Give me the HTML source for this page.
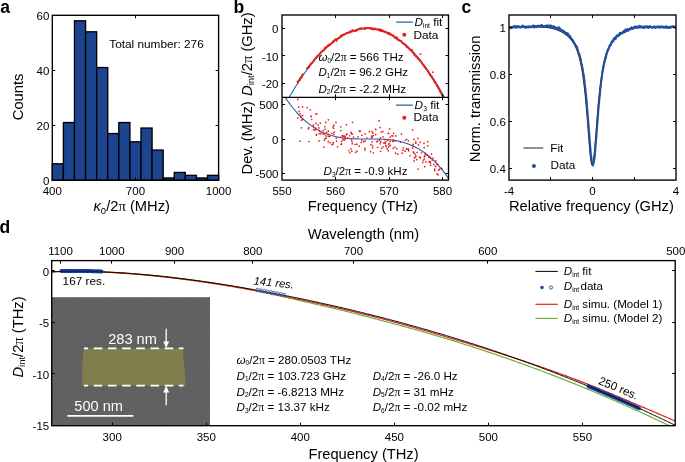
<!DOCTYPE html>
<html><head><meta charset="utf-8"><style>
html,body{margin:0;padding:0;background:#fff;}
svg{display:block;will-change:transform;font-family:"Liberation Sans", sans-serif;}
</style></head><body>
<svg width="685" height="462" viewBox="0 0 685 462" font-family='"Liberation Sans", sans-serif' fill="#000">
<rect width="685" height="462" fill="#fff"/>
<rect x="52.3" y="163.8" width="11.09" height="16.5" fill="#1c448f" stroke="#000" stroke-width="1.35"/>
<rect x="63.39" y="122.55" width="11.09" height="57.75" fill="#1c448f" stroke="#000" stroke-width="1.35"/>
<rect x="74.47" y="20.8" width="11.09" height="159.5" fill="#1c448f" stroke="#000" stroke-width="1.35"/>
<rect x="85.56" y="31.8" width="11.09" height="148.5" fill="#1c448f" stroke="#000" stroke-width="1.35"/>
<rect x="96.65" y="67.55" width="11.09" height="112.75" fill="#1c448f" stroke="#000" stroke-width="1.35"/>
<rect x="107.73" y="133.55" width="11.09" height="46.75" fill="#1c448f" stroke="#000" stroke-width="1.35"/>
<rect x="118.82" y="122.55" width="11.09" height="57.75" fill="#1c448f" stroke="#000" stroke-width="1.35"/>
<rect x="129.91" y="141.8" width="11.09" height="38.5" fill="#1c448f" stroke="#000" stroke-width="1.35"/>
<rect x="140.99" y="128.05" width="11.09" height="52.25" fill="#1c448f" stroke="#000" stroke-width="1.35"/>
<rect x="152.08" y="150.05" width="11.09" height="30.25" fill="#1c448f" stroke="#000" stroke-width="1.35"/>
<rect x="163.17" y="177.96" width="11.09" height="2.34" fill="#1c448f" stroke="#000" stroke-width="1.35"/>
<rect x="174.25" y="172.46" width="11.09" height="7.84" fill="#1c448f" stroke="#000" stroke-width="1.35"/>
<rect x="185.34" y="175.35" width="11.09" height="4.95" fill="#1c448f" stroke="#000" stroke-width="1.35"/>
<rect x="196.43" y="177.96" width="11.09" height="2.34" fill="#1c448f" stroke="#000" stroke-width="1.35"/>
<rect x="207.51" y="175.35" width="11.09" height="4.95" fill="#1c448f" stroke="#000" stroke-width="1.35"/>
<rect x="52.3" y="15.3" width="166.3" height="165" fill="none" stroke="#000" stroke-width="1.35"/>
<path d="M52.3,125.5h3 M218.6,125.5h-3 M52.3,70.5h3 M218.6,70.5h-3 M135.5,15.3v3 M135.5,180.3v-3" stroke="#000" stroke-width="1" fill="none"/>
<text x="49.4" y="185" text-anchor="end" font-size="11.5">0</text>
<text x="49.4" y="130" text-anchor="end" font-size="11.5">20</text>
<text x="49.4" y="75" text-anchor="end" font-size="11.5">40</text>
<text x="49.4" y="20" text-anchor="end" font-size="11.5">60</text>
<text x="52.3" y="195.0" text-anchor="middle" font-size="11.5">400</text>
<text x="135.45" y="195.0" text-anchor="middle" font-size="11.5">700</text>
<text x="218.6" y="195.0" text-anchor="middle" font-size="11.5">1000</text>
<text x="109.3" y="47.7" font-size="11.8">Total number: 276</text>
<text transform="translate(23.4,96.9) rotate(-90)" text-anchor="middle" font-size="14.7">Counts</text>
<text x="131.7" y="211" text-anchor="middle" font-size="14.7"><tspan font-style="italic">κ</tspan><tspan font-size="9.5" dy="2.5">0</tspan><tspan dy="-2.5">/2<tspan font-family="Liberation Serif">π</tspan> (MHz)</tspan></text>
<text x="0.2" y="13" font-size="17.5" font-weight="bold">a</text>
<defs><clipPath id="cbu"><rect x="282" y="15" width="166.5" height="82.3"/></clipPath><clipPath id="cbl"><rect x="282" y="97.3" width="166.5" height="82.8"/></clipPath><clipPath id="cc"><rect x="509" y="15" width="167" height="165.1"/></clipPath><clipPath id="cd"><rect x="51.7" y="260.6" width="623.5" height="165.1"/></clipPath></defs>
<path clip-path="url(#cbu)" d="M276.65,120.82 L277.24,119.64 L277.83,118.47 L278.42,117.3 L279.01,116.14 L279.6,114.98 L280.19,113.84 L280.78,112.7 L281.37,111.57 L281.96,110.45 L282.55,109.33 L283.15,108.22 L283.74,107.12 L284.33,106.03 L284.92,104.94 L285.51,103.86 L286.1,102.79 L286.69,101.73 L287.28,100.67 L287.87,99.62 L288.46,98.58 L289.05,97.55 L289.64,96.52 L290.23,95.5 L290.82,94.49 L291.41,93.49 L292,92.49 L292.59,91.5 L293.18,90.52 L293.77,89.55 L294.36,88.58 L294.95,87.62 L295.54,86.67 L296.14,85.73 L296.73,84.79 L297.32,83.86 L297.91,82.94 L298.5,82.03 L299.09,81.12 L299.68,80.22 L300.27,79.33 L300.86,78.45 L301.45,77.58 L302.04,76.71 L302.63,75.85 L303.22,74.99 L303.81,74.15 L304.4,73.31 L304.99,72.48 L305.58,71.66 L306.17,70.84 L306.76,70.04 L307.35,69.24 L307.94,68.44 L308.54,67.66 L309.13,66.88 L309.72,66.11 L310.31,65.35 L310.9,64.6 L311.49,63.85 L312.08,63.11 L312.67,62.38 L313.26,61.66 L313.85,60.94 L314.44,60.23 L315.03,59.53 L315.62,58.84 L316.21,58.16 L316.8,57.48 L317.39,56.81 L317.98,56.15 L318.57,55.49 L319.16,54.84 L319.75,54.21 L320.34,53.57 L320.94,52.95 L321.53,52.33 L322.12,51.73 L322.71,51.13 L323.3,50.53 L323.89,49.95 L324.48,49.37 L325.07,48.8 L325.66,48.24 L326.25,47.68 L326.84,47.14 L327.43,46.6 L328.02,46.07 L328.61,45.54 L329.2,45.03 L329.79,44.52 L330.38,44.02 L330.97,43.53 L331.56,43.04 L332.15,42.57 L332.74,42.1 L333.33,41.63 L333.93,41.18 L334.52,40.74 L335.11,40.3 L335.7,39.87 L336.29,39.44 L336.88,39.03 L337.47,38.62 L338.06,38.22 L338.65,37.83 L339.24,37.45 L339.83,37.07 L340.42,36.71 L341.01,36.35 L341.6,35.99 L342.19,35.65 L342.78,35.31 L343.37,34.98 L343.96,34.66 L344.55,34.35 L345.14,34.05 L345.73,33.75 L346.33,33.46 L346.92,33.18 L347.51,32.9 L348.1,32.64 L348.69,32.38 L349.28,32.13 L349.87,31.89 L350.46,31.65 L351.05,31.43 L351.64,31.21 L352.23,31 L352.82,30.79 L353.41,30.6 L354,30.41 L354.59,30.23 L355.18,30.06 L355.77,29.9 L356.36,29.74 L356.95,29.6 L357.54,29.46 L358.13,29.32 L358.73,29.2 L359.32,29.08 L359.91,28.98 L360.5,28.88 L361.09,28.79 L361.68,28.7 L362.27,28.63 L362.86,28.56 L363.45,28.5 L364.04,28.45 L364.63,28.4 L365.22,28.36 L365.81,28.34 L366.4,28.32 L366.99,28.3 L367.58,28.3 L368.17,28.3 L368.76,28.32 L369.35,28.34 L369.94,28.36 L370.53,28.4 L371.12,28.44 L371.72,28.49 L372.31,28.55 L372.9,28.62 L373.49,28.7 L374.08,28.78 L374.67,28.87 L375.26,28.97 L375.85,29.08 L376.44,29.2 L377.03,29.32 L377.62,29.45 L378.21,29.59 L378.8,29.74 L379.39,29.9 L379.98,30.06 L380.57,30.24 L381.16,30.42 L381.75,30.6 L382.34,30.8 L382.93,31.01 L383.52,31.22 L384.12,31.44 L384.71,31.67 L385.3,31.91 L385.89,32.15 L386.48,32.4 L387.07,32.67 L387.66,32.94 L388.25,33.21 L388.84,33.5 L389.43,33.79 L390.02,34.1 L390.61,34.41 L391.2,34.72 L391.79,35.05 L392.38,35.39 L392.97,35.73 L393.56,36.08 L394.15,36.44 L394.74,36.81 L395.33,37.18 L395.92,37.56 L396.52,37.96 L397.11,38.36 L397.7,38.76 L398.29,39.18 L398.88,39.61 L399.47,40.04 L400.06,40.48 L400.65,40.93 L401.24,41.39 L401.83,41.85 L402.42,42.32 L403.01,42.81 L403.6,43.3 L404.19,43.79 L404.78,44.3 L405.37,44.82 L405.96,45.34 L406.55,45.87 L407.14,46.41 L407.73,46.96 L408.32,47.51 L408.91,48.08 L409.51,48.65 L410.1,49.23 L410.69,49.82 L411.28,50.42 L411.87,51.02 L412.46,51.64 L413.05,52.26 L413.64,52.89 L414.23,53.53 L414.82,54.18 L415.41,54.83 L416,55.49 L416.59,56.17 L417.18,56.85 L417.77,57.53 L418.36,58.23 L418.95,58.94 L419.54,59.65 L420.13,60.37 L420.72,61.1 L421.31,61.84 L421.91,62.59 L422.5,63.34 L423.09,64.11 L423.68,64.88 L424.27,65.66 L424.86,66.45 L425.45,67.24 L426.04,68.05 L426.63,68.86 L427.22,69.68 L427.81,70.51 L428.4,71.35 L428.99,72.2 L429.58,73.05 L430.17,73.92 L430.76,74.79 L431.35,75.67 L431.94,76.56 L432.53,77.46 L433.12,78.36 L433.71,79.28 L434.31,80.2 L434.9,81.13 L435.49,82.07 L436.08,83.02 L436.67,83.97 L437.26,84.94 L437.85,85.91 L438.44,86.89 L439.03,87.88 L439.62,88.88 L440.21,89.89 L440.8,90.91 L441.39,91.93 L441.98,92.96 L442.57,94 L443.16,95.05 L443.75,96.11 L444.34,97.18 L444.93,98.25 L445.52,99.33 L446.11,100.42 L446.7,101.52 L447.3,102.63 L447.89,103.75 L448.48,104.88 L449.07,106.01 L449.66,107.15 L450.25,108.3 L450.84,109.46 L451.43,110.63 L452.02,111.81 L452.61,112.99 L453.2,114.19" stroke="#2f5cae" stroke-width="1.1" fill="none"/>
<path clip-path="url(#cbl)" d="M276.65,82.9 L277.24,83.99 L277.83,85.06 L278.42,86.12 L279.01,87.16 L279.6,88.19 L280.19,89.21 L280.78,90.21 L281.37,91.2 L281.96,92.17 L282.55,93.14 L283.15,94.08 L283.74,95.02 L284.33,95.94 L284.92,96.85 L285.51,97.75 L286.1,98.63 L286.69,99.5 L287.28,100.36 L287.87,101.21 L288.46,102.04 L289.05,102.86 L289.64,103.67 L290.23,104.47 L290.82,105.25 L291.41,106.02 L292,106.79 L292.59,107.53 L293.18,108.27 L293.77,109 L294.36,109.71 L294.95,110.41 L295.54,111.11 L296.14,111.79 L296.73,112.45 L297.32,113.11 L297.91,113.76 L298.5,114.4 L299.09,115.02 L299.68,115.64 L300.27,116.24 L300.86,116.83 L301.45,117.42 L302.04,117.99 L302.63,118.55 L303.22,119.1 L303.81,119.65 L304.4,120.18 L304.99,120.7 L305.58,121.21 L306.17,121.72 L306.76,122.21 L307.35,122.7 L307.94,123.17 L308.54,123.64 L309.13,124.09 L309.72,124.54 L310.31,124.98 L310.9,125.41 L311.49,125.83 L312.08,126.24 L312.67,126.64 L313.26,127.04 L313.85,127.42 L314.44,127.8 L315.03,128.17 L315.62,128.53 L316.21,128.88 L316.8,129.23 L317.39,129.56 L317.98,129.89 L318.57,130.21 L319.16,130.53 L319.75,130.83 L320.34,131.13 L320.94,131.42 L321.53,131.71 L322.12,131.98 L322.71,132.25 L323.3,132.52 L323.89,132.77 L324.48,133.02 L325.07,133.26 L325.66,133.5 L326.25,133.73 L326.84,133.95 L327.43,134.17 L328.02,134.38 L328.61,134.58 L329.2,134.78 L329.79,134.97 L330.38,135.16 L330.97,135.34 L331.56,135.51 L332.15,135.68 L332.74,135.84 L333.33,136 L333.93,136.15 L334.52,136.3 L335.11,136.44 L335.7,136.58 L336.29,136.71 L336.88,136.84 L337.47,136.96 L338.06,137.08 L338.65,137.19 L339.24,137.3 L339.83,137.4 L340.42,137.5 L341.01,137.6 L341.6,137.69 L342.19,137.78 L342.78,137.86 L343.37,137.94 L343.96,138.02 L344.55,138.09 L345.14,138.16 L345.73,138.22 L346.33,138.28 L346.92,138.34 L347.51,138.4 L348.1,138.45 L348.69,138.5 L349.28,138.54 L349.87,138.58 L350.46,138.62 L351.05,138.66 L351.64,138.7 L352.23,138.73 L352.82,138.76 L353.41,138.79 L354,138.81 L354.59,138.84 L355.18,138.86 L355.77,138.88 L356.36,138.89 L356.95,138.91 L357.54,138.92 L358.13,138.94 L358.73,138.95 L359.32,138.96 L359.91,138.97 L360.5,138.97 L361.09,138.98 L361.68,138.98 L362.27,138.99 L362.86,138.99 L363.45,138.99 L364.04,139 L364.63,139 L365.22,139 L365.81,139 L366.4,139 L366.99,139 L367.58,139 L368.17,139 L368.76,139 L369.35,139 L369.94,139 L370.53,139 L371.12,139 L371.72,139.01 L372.31,139.01 L372.9,139.01 L373.49,139.02 L374.08,139.02 L374.67,139.03 L375.26,139.03 L375.85,139.04 L376.44,139.05 L377.03,139.06 L377.62,139.08 L378.21,139.09 L378.8,139.1 L379.39,139.12 L379.98,139.14 L380.57,139.16 L381.16,139.19 L381.75,139.21 L382.34,139.24 L382.93,139.27 L383.52,139.3 L384.12,139.34 L384.71,139.37 L385.3,139.41 L385.89,139.46 L386.48,139.5 L387.07,139.55 L387.66,139.6 L388.25,139.66 L388.84,139.71 L389.43,139.78 L390.02,139.84 L390.61,139.91 L391.2,139.98 L391.79,140.06 L392.38,140.13 L392.97,140.22 L393.56,140.3 L394.15,140.4 L394.74,140.49 L395.33,140.59 L395.92,140.69 L396.52,140.8 L397.11,140.92 L397.7,141.03 L398.29,141.15 L398.88,141.28 L399.47,141.41 L400.06,141.55 L400.65,141.69 L401.24,141.84 L401.83,141.99 L402.42,142.15 L403.01,142.31 L403.6,142.48 L404.19,142.65 L404.78,142.83 L405.37,143.02 L405.96,143.21 L406.55,143.41 L407.14,143.61 L407.73,143.82 L408.32,144.04 L408.91,144.26 L409.51,144.49 L410.1,144.72 L410.69,144.96 L411.28,145.21 L411.87,145.47 L412.46,145.73 L413.05,146 L413.64,146.28 L414.23,146.56 L414.82,146.85 L415.41,147.15 L416,147.45 L416.59,147.77 L417.18,148.09 L417.77,148.42 L418.36,148.75 L418.95,149.1 L419.54,149.45 L420.13,149.81 L420.72,150.18 L421.31,150.56 L421.91,150.94 L422.5,151.34 L423.09,151.74 L423.68,152.15 L424.27,152.57 L424.86,153 L425.45,153.43 L426.04,153.88 L426.63,154.34 L427.22,154.8 L427.81,155.28 L428.4,155.76 L428.99,156.25 L429.58,156.75 L430.17,157.27 L430.76,157.79 L431.35,158.32 L431.94,158.86 L432.53,159.41 L433.12,159.98 L433.71,160.55 L434.31,161.13 L434.9,161.72 L435.49,162.33 L436.08,162.94 L436.67,163.57 L437.26,164.2 L437.85,164.85 L438.44,165.51 L439.03,166.17 L439.62,166.85 L440.21,167.54 L440.8,168.25 L441.39,168.96 L441.98,169.68 L442.57,170.42 L443.16,171.17 L443.75,171.93 L444.34,172.7 L444.93,173.49 L445.52,174.28 L446.11,175.09 L446.7,175.91 L447.3,176.74 L447.89,177.59 L448.48,178.44 L449.07,179.32 L449.66,180.2 L450.25,181.09 L450.84,182 L451.43,182.92 L452.02,183.86 L452.61,184.81 L453.2,185.77" stroke="#2f5cae" stroke-width="1.1" fill="none"/>
<path clip-path="url(#cbu)" d="M297.52,81.95 L297.74,81.47 L297.75,82.29 L298.7,80.61 L299.06,80.17 L299.93,79.99 L300.05,78.27 L300.65,78.02 L300.87,77.81 L301.4,77.46 L301.4,76.94 L302.18,75.35 L302.53,74.95 L302.66,74.82 L302.77,74.21 M307,68.56 L308.29,67.21 L308.83,66.5 L308.87,67.16 L310.32,64.49 L311.01,63.45 L311.08,63.54 L311.72,63.22 L313.37,61.41 L313.41,60.89 L313.48,60.95 L314.9,59.02 L315.81,58.02 L316.03,57.48 L316.09,57.77 L316.17,57.85 L316.4,58.01 L316.47,57.51 L316.92,56.32 L318.19,55.55 L318.88,54.86 L318.96,55.11 L319,55.2 L319.5,54.09 L320.34,53.04 L320.53,52.93 L321.18,52.03 L323.14,50.62 L323.3,50.17 L323.79,50.45 L324.26,48.96 L324.32,49.49 L324.86,48.36 L325.03,48.61 L325.04,47.87 L325.74,47.42 L325.92,48.09 L326.23,47.76 L326.56,46.98 L328.02,45.88 L328.28,46.13 L328.32,44.79 L328.33,44.99 L328.37,45.79 L329.81,44.57 L329.99,44.92 L331.89,42.83 L331.91,43.07 L333.05,42.13 L333.06,41.55 L333.22,41.73 L333.57,41.01 L333.83,40.92 L333.83,41.55 L334.14,40.71 L335.99,38.98 L336.23,39.5 L336.56,39.67 L337.57,38.86 L340.67,36.85 L340.74,35.78 L340.78,36.11 L341.16,36.43 L341.65,36.36 L341.69,36.3 L342.26,35.1 L342.72,35.13 L343.34,34.98 L343.95,34.38 L344.07,34.27 L344.68,34.52 L345.07,34.11 L345.48,33.99 L346.35,33.15 L346.56,33.03 L347.16,32.8 L347.43,33.17 L348.79,32.57 L349.65,31.63 L349.92,32.47 L350.85,31.72 L351.17,31.29 L351.24,31.2 L351.7,30.98 L351.84,31.64 L351.92,31.11 L352.28,31.39 L352.3,30.62 L352.46,30.14 L353.49,30.8 L355.04,30.88 L355.66,30.96 L356.89,29.84 L356.97,29.85 L356.99,30.45 L358.05,29.23 L359.18,29.15 L359.41,28.77 L359.67,28.82 L360.37,28.38 L361.17,28.5 L361.78,28.18 L361.87,28.88 L363.53,28.41 L363.67,28.54 L364.89,28.81 L364.95,28.98 L365.17,28.08 L365.2,28.57 L366.84,28.04 L369.42,27.96 L370.54,28.65 L371.01,28.94 L371.3,28.4 L371.77,28.2 L371.93,28.54 L372.04,28.17 L372.14,28.65 L372.66,28.55 L372.72,28.61 L372.96,28.3 L373.27,29.17 L373.33,29.47 L375.47,28.59 L375.64,29.05 L375.87,29.21 L376.82,29.33 L377.5,29.42 L377.67,30.1 L379.16,29.23 L379.65,30.19 L380.03,29.5 L380.04,30.75 L380.56,30.62 L380.61,30.88 L380.72,30.57 L381.4,29.71 L381.63,31.1 L382.99,30.68 L383.04,31.06 L383.05,31.53 L383.68,31.35 L384.19,31.19 L385,31.91 L385.19,31.85 L385.81,32.3 L386.02,32.16 L386.28,32.55 L387.36,32.62 L387.69,33.29 L388.11,32.98 L388.33,34 L388.55,33.88 L388.6,33.61 L388.71,33.3 L388.77,33.02 L389.11,33.51 L389.59,33.35 L389.99,34.36 L390.1,33.56 L390.24,34.4 L390.51,34.23 L391.86,35.04 L392.8,35.69 L392.87,35.46 L392.91,35.74 L393.09,36.03 L393.37,35.89 L393.52,35.67 L393.56,35.84 L394.91,37.7 L395.6,37.92 L395.6,38.25 L395.81,37.54 L396.65,38.27 L397.87,39.85 L400.62,41.01 L401.52,41.39 L402.25,42.68 L402.8,43.1 L403.4,43.37 L405.12,45.06 L405.27,44.5 L406.51,46.15 L406.72,46.98 L406.75,46.05 L408.24,47.79 L408.37,47.76 L408.54,48.29 L408.78,48.14 L410.07,49.82 L412.54,51.59 L412.59,52.21 L413.18,52.64 L413.19,53.09 L413.24,52.81 L413.85,53.7 L413.91,53.07 L414.12,54.66 L414.49,54.08 L415.14,54.98 L415.3,55.28 L415.83,55.58 L415.83,55.62 L415.99,56.52 L416.7,56.73 L417.09,57.46 L417.99,57.7 L418.06,58.91 L418.39,58.64 L419.47,60.05 L420.18,60.04 L420.48,61.46 L421.48,62.23 L422.77,64.47 L423.42,65.48 L424.01,65.57 L424.22,66.34 L424.33,66.4 L424.41,66.26 L424.72,67.18 L424.94,67 L425.01,66.92 L425.32,67.78 L425.66,67.97 L425.84,68.2 L425.86,68.59 L427.16,70.21 L427.68,70.7 L427.78,70.61 L428.76,72.74 L429.12,73.31 L429.53,74.01 L430.14,74.88 L430.44,75.37 L430.47,75.21 L430.69,75.37 L431.51,76.46 L432.26,77.81 L433.06,79.08 L433.78,80.04 L434.72,82.46 L434.74,82.18 L435.2,82.4 L435.61,82.94 L435.78,83.34 L436.95,85.4 L437.13,85.95 L437.98,87.17 L438.08,87.56 L438.62,88.58 L439.67,89.99 L439.91,91.09 L441.16,92.93 L442.11,95.02" stroke="#e3211c" stroke-width="2.0" fill="none" stroke-linejoin="round" stroke-linecap="round"/>
<path clip-path="url(#cbu)" d="M419.66,53.97a0.9,0.9 0 1,0 1.8,0a0.9,0.9 0 1,0 -1.8,0 M396.12,37.13a0.9,0.9 0 1,0 1.8,0a0.9,0.9 0 1,0 -1.8,0 M431.97,72.18a0.9,0.9 0 1,0 1.8,0a0.9,0.9 0 1,0 -1.8,0 M411.1,49.55a0.9,0.9 0 1,0 1.8,0a0.9,0.9 0 1,0 -1.8,0 M335.67,41a0.9,0.9 0 1,0 1.8,0a0.9,0.9 0 1,0 -1.8,0" fill="#e3211c"/>
<path clip-path="url(#cbl)" d="M296.67,96.66a0.85,0.85 0 1,0 1.7,0a0.85,0.85 0 1,0 -1.7,0 M296.89,99.42a0.85,0.85 0 1,0 1.7,0a0.85,0.85 0 1,0 -1.7,0 M296.9,118.08a0.85,0.85 0 1,0 1.7,0a0.85,0.85 0 1,0 -1.7,0 M297.85,107.13a0.85,0.85 0 1,0 1.7,0a0.85,0.85 0 1,0 -1.7,0 M298.21,111.32a0.85,0.85 0 1,0 1.7,0a0.85,0.85 0 1,0 -1.7,0 M299.08,141.21a0.85,0.85 0 1,0 1.7,0a0.85,0.85 0 1,0 -1.7,0 M299.2,113.59a0.85,0.85 0 1,0 1.7,0a0.85,0.85 0 1,0 -1.7,0 M299.8,117.22a0.85,0.85 0 1,0 1.7,0a0.85,0.85 0 1,0 -1.7,0 M300.02,116.04a0.85,0.85 0 1,0 1.7,0a0.85,0.85 0 1,0 -1.7,0 M300.55,127.8a0.85,0.85 0 1,0 1.7,0a0.85,0.85 0 1,0 -1.7,0 M300.55,119.98a0.85,0.85 0 1,0 1.7,0a0.85,0.85 0 1,0 -1.7,0 M301.33,119.85a0.85,0.85 0 1,0 1.7,0a0.85,0.85 0 1,0 -1.7,0 M301.68,106.94a0.85,0.85 0 1,0 1.7,0a0.85,0.85 0 1,0 -1.7,0 M301.81,115.34a0.85,0.85 0 1,0 1.7,0a0.85,0.85 0 1,0 -1.7,0 M301.92,118.73a0.85,0.85 0 1,0 1.7,0a0.85,0.85 0 1,0 -1.7,0 M306.15,107.59a0.85,0.85 0 1,0 1.7,0a0.85,0.85 0 1,0 -1.7,0 M307.44,128.82a0.85,0.85 0 1,0 1.7,0a0.85,0.85 0 1,0 -1.7,0 M307.98,127.64a0.85,0.85 0 1,0 1.7,0a0.85,0.85 0 1,0 -1.7,0 M308.02,141.49a0.85,0.85 0 1,0 1.7,0a0.85,0.85 0 1,0 -1.7,0 M309.47,109.78a0.85,0.85 0 1,0 1.7,0a0.85,0.85 0 1,0 -1.7,0 M310.16,116.15a0.85,0.85 0 1,0 1.7,0a0.85,0.85 0 1,0 -1.7,0 M310.23,116.65a0.85,0.85 0 1,0 1.7,0a0.85,0.85 0 1,0 -1.7,0 M310.87,119.51a0.85,0.85 0 1,0 1.7,0a0.85,0.85 0 1,0 -1.7,0 M312.52,126.04a0.85,0.85 0 1,0 1.7,0a0.85,0.85 0 1,0 -1.7,0 M312.56,125.05a0.85,0.85 0 1,0 1.7,0a0.85,0.85 0 1,0 -1.7,0 M312.63,129.62a0.85,0.85 0 1,0 1.7,0a0.85,0.85 0 1,0 -1.7,0 M314.05,130.06a0.85,0.85 0 1,0 1.7,0a0.85,0.85 0 1,0 -1.7,0 M314.96,128.11a0.85,0.85 0 1,0 1.7,0a0.85,0.85 0 1,0 -1.7,0 M315.18,114.13a0.85,0.85 0 1,0 1.7,0a0.85,0.85 0 1,0 -1.7,0 M315.24,123.43a0.85,0.85 0 1,0 1.7,0a0.85,0.85 0 1,0 -1.7,0 M315.32,129.42a0.85,0.85 0 1,0 1.7,0a0.85,0.85 0 1,0 -1.7,0 M315.55,134.61a0.85,0.85 0 1,0 1.7,0a0.85,0.85 0 1,0 -1.7,0 M315.62,135.19a0.85,0.85 0 1,0 1.7,0a0.85,0.85 0 1,0 -1.7,0 M316.07,113.77a0.85,0.85 0 1,0 1.7,0a0.85,0.85 0 1,0 -1.7,0 M317.34,125.09a0.85,0.85 0 1,0 1.7,0a0.85,0.85 0 1,0 -1.7,0 M318.03,127.95a0.85,0.85 0 1,0 1.7,0a0.85,0.85 0 1,0 -1.7,0 M318.11,133.55a0.85,0.85 0 1,0 1.7,0a0.85,0.85 0 1,0 -1.7,0 M318.15,140.96a0.85,0.85 0 1,0 1.7,0a0.85,0.85 0 1,0 -1.7,0 M318.65,131.13a0.85,0.85 0 1,0 1.7,0a0.85,0.85 0 1,0 -1.7,0 M319.49,123.21a0.85,0.85 0 1,0 1.7,0a0.85,0.85 0 1,0 -1.7,0 M319.68,134.02a0.85,0.85 0 1,0 1.7,0a0.85,0.85 0 1,0 -1.7,0 M320.33,132.74a0.85,0.85 0 1,0 1.7,0a0.85,0.85 0 1,0 -1.7,0 M322.29,133.58a0.85,0.85 0 1,0 1.7,0a0.85,0.85 0 1,0 -1.7,0 M322.45,130.48a0.85,0.85 0 1,0 1.7,0a0.85,0.85 0 1,0 -1.7,0 M322.94,147.18a0.85,0.85 0 1,0 1.7,0a0.85,0.85 0 1,0 -1.7,0 M323.41,134.23a0.85,0.85 0 1,0 1.7,0a0.85,0.85 0 1,0 -1.7,0 M323.47,140.25a0.85,0.85 0 1,0 1.7,0a0.85,0.85 0 1,0 -1.7,0 M324.01,126.75a0.85,0.85 0 1,0 1.7,0a0.85,0.85 0 1,0 -1.7,0 M324.18,138.85a0.85,0.85 0 1,0 1.7,0a0.85,0.85 0 1,0 -1.7,0 M324.19,129.06a0.85,0.85 0 1,0 1.7,0a0.85,0.85 0 1,0 -1.7,0 M324.89,122.45a0.85,0.85 0 1,0 1.7,0a0.85,0.85 0 1,0 -1.7,0 M325.07,135.88a0.85,0.85 0 1,0 1.7,0a0.85,0.85 0 1,0 -1.7,0 M325.38,138.09a0.85,0.85 0 1,0 1.7,0a0.85,0.85 0 1,0 -1.7,0 M325.71,132.46a0.85,0.85 0 1,0 1.7,0a0.85,0.85 0 1,0 -1.7,0 M327.17,134.39a0.85,0.85 0 1,0 1.7,0a0.85,0.85 0 1,0 -1.7,0 M327.43,141.69a0.85,0.85 0 1,0 1.7,0a0.85,0.85 0 1,0 -1.7,0 M327.47,131.13a0.85,0.85 0 1,0 1.7,0a0.85,0.85 0 1,0 -1.7,0 M327.48,119.84a0.85,0.85 0 1,0 1.7,0a0.85,0.85 0 1,0 -1.7,0 M327.52,136.37a0.85,0.85 0 1,0 1.7,0a0.85,0.85 0 1,0 -1.7,0 M328.96,136.45a0.85,0.85 0 1,0 1.7,0a0.85,0.85 0 1,0 -1.7,0 M329.14,142.63a0.85,0.85 0 1,0 1.7,0a0.85,0.85 0 1,0 -1.7,0 M331.04,133.29a0.85,0.85 0 1,0 1.7,0a0.85,0.85 0 1,0 -1.7,0 M331.06,144.67a0.85,0.85 0 1,0 1.7,0a0.85,0.85 0 1,0 -1.7,0 M332.2,143.97a0.85,0.85 0 1,0 1.7,0a0.85,0.85 0 1,0 -1.7,0 M332.21,126.63a0.85,0.85 0 1,0 1.7,0a0.85,0.85 0 1,0 -1.7,0 M332.37,142.55a0.85,0.85 0 1,0 1.7,0a0.85,0.85 0 1,0 -1.7,0 M332.72,128.21a0.85,0.85 0 1,0 1.7,0a0.85,0.85 0 1,0 -1.7,0 M332.98,125.05a0.85,0.85 0 1,0 1.7,0a0.85,0.85 0 1,0 -1.7,0 M332.98,134.24a0.85,0.85 0 1,0 1.7,0a0.85,0.85 0 1,0 -1.7,0 M333.29,132.19a0.85,0.85 0 1,0 1.7,0a0.85,0.85 0 1,0 -1.7,0 M335.14,122.46a0.85,0.85 0 1,0 1.7,0a0.85,0.85 0 1,0 -1.7,0 M335.38,138.13a0.85,0.85 0 1,0 1.7,0a0.85,0.85 0 1,0 -1.7,0 M335.71,141.08a0.85,0.85 0 1,0 1.7,0a0.85,0.85 0 1,0 -1.7,0 M336.72,146.81a0.85,0.85 0 1,0 1.7,0a0.85,0.85 0 1,0 -1.7,0 M339.82,137.24a0.85,0.85 0 1,0 1.7,0a0.85,0.85 0 1,0 -1.7,0 M339.89,126.81a0.85,0.85 0 1,0 1.7,0a0.85,0.85 0 1,0 -1.7,0 M339.93,130.59a0.85,0.85 0 1,0 1.7,0a0.85,0.85 0 1,0 -1.7,0 M340.31,144.47a0.85,0.85 0 1,0 1.7,0a0.85,0.85 0 1,0 -1.7,0 M340.8,143.91a0.85,0.85 0 1,0 1.7,0a0.85,0.85 0 1,0 -1.7,0 M340.84,141.37a0.85,0.85 0 1,0 1.7,0a0.85,0.85 0 1,0 -1.7,0 M341.41,135.66a0.85,0.85 0 1,0 1.7,0a0.85,0.85 0 1,0 -1.7,0 M341.87,139.34a0.85,0.85 0 1,0 1.7,0a0.85,0.85 0 1,0 -1.7,0 M342.49,136.38a0.85,0.85 0 1,0 1.7,0a0.85,0.85 0 1,0 -1.7,0 M343.1,135.86a0.85,0.85 0 1,0 1.7,0a0.85,0.85 0 1,0 -1.7,0 M343.22,140.2a0.85,0.85 0 1,0 1.7,0a0.85,0.85 0 1,0 -1.7,0 M343.83,138.39a0.85,0.85 0 1,0 1.7,0a0.85,0.85 0 1,0 -1.7,0 M344.22,136.65a0.85,0.85 0 1,0 1.7,0a0.85,0.85 0 1,0 -1.7,0 M344.63,138.8a0.85,0.85 0 1,0 1.7,0a0.85,0.85 0 1,0 -1.7,0 M345.5,134.63a0.85,0.85 0 1,0 1.7,0a0.85,0.85 0 1,0 -1.7,0 M345.71,124.71a0.85,0.85 0 1,0 1.7,0a0.85,0.85 0 1,0 -1.7,0 M346.31,134.06a0.85,0.85 0 1,0 1.7,0a0.85,0.85 0 1,0 -1.7,0 M346.58,137.98a0.85,0.85 0 1,0 1.7,0a0.85,0.85 0 1,0 -1.7,0 M347.94,150.76a0.85,0.85 0 1,0 1.7,0a0.85,0.85 0 1,0 -1.7,0 M348.8,135.75a0.85,0.85 0 1,0 1.7,0a0.85,0.85 0 1,0 -1.7,0 M349.07,152.73a0.85,0.85 0 1,0 1.7,0a0.85,0.85 0 1,0 -1.7,0 M350,148.89a0.85,0.85 0 1,0 1.7,0a0.85,0.85 0 1,0 -1.7,0 M350.32,132.46a0.85,0.85 0 1,0 1.7,0a0.85,0.85 0 1,0 -1.7,0 M350.39,133.54a0.85,0.85 0 1,0 1.7,0a0.85,0.85 0 1,0 -1.7,0 M350.85,139.79a0.85,0.85 0 1,0 1.7,0a0.85,0.85 0 1,0 -1.7,0 M350.99,151.13a0.85,0.85 0 1,0 1.7,0a0.85,0.85 0 1,0 -1.7,0 M351.07,141.41a0.85,0.85 0 1,0 1.7,0a0.85,0.85 0 1,0 -1.7,0 M351.43,143.66a0.85,0.85 0 1,0 1.7,0a0.85,0.85 0 1,0 -1.7,0 M351.45,134.11a0.85,0.85 0 1,0 1.7,0a0.85,0.85 0 1,0 -1.7,0 M351.61,122.34a0.85,0.85 0 1,0 1.7,0a0.85,0.85 0 1,0 -1.7,0 M352.64,137.21a0.85,0.85 0 1,0 1.7,0a0.85,0.85 0 1,0 -1.7,0 M354.19,144.51a0.85,0.85 0 1,0 1.7,0a0.85,0.85 0 1,0 -1.7,0 M354.81,152.38a0.85,0.85 0 1,0 1.7,0a0.85,0.85 0 1,0 -1.7,0 M356.04,144.32a0.85,0.85 0 1,0 1.7,0a0.85,0.85 0 1,0 -1.7,0 M356.12,144.02a0.85,0.85 0 1,0 1.7,0a0.85,0.85 0 1,0 -1.7,0 M356.14,151.1a0.85,0.85 0 1,0 1.7,0a0.85,0.85 0 1,0 -1.7,0 M357.2,136.91a0.85,0.85 0 1,0 1.7,0a0.85,0.85 0 1,0 -1.7,0 M358.33,146.14a0.85,0.85 0 1,0 1.7,0a0.85,0.85 0 1,0 -1.7,0 M358.56,130.88a0.85,0.85 0 1,0 1.7,0a0.85,0.85 0 1,0 -1.7,0 M358.82,131.24a0.85,0.85 0 1,0 1.7,0a0.85,0.85 0 1,0 -1.7,0 M359.52,131.09a0.85,0.85 0 1,0 1.7,0a0.85,0.85 0 1,0 -1.7,0 M360.32,142.42a0.85,0.85 0 1,0 1.7,0a0.85,0.85 0 1,0 -1.7,0 M360.93,135.25a0.85,0.85 0 1,0 1.7,0a0.85,0.85 0 1,0 -1.7,0 M361.02,139.95a0.85,0.85 0 1,0 1.7,0a0.85,0.85 0 1,0 -1.7,0 M362.68,141.82a0.85,0.85 0 1,0 1.7,0a0.85,0.85 0 1,0 -1.7,0 M362.82,141.46a0.85,0.85 0 1,0 1.7,0a0.85,0.85 0 1,0 -1.7,0 M364.04,148.44a0.85,0.85 0 1,0 1.7,0a0.85,0.85 0 1,0 -1.7,0 M364.1,150.08a0.85,0.85 0 1,0 1.7,0a0.85,0.85 0 1,0 -1.7,0 M364.32,133.82a0.85,0.85 0 1,0 1.7,0a0.85,0.85 0 1,0 -1.7,0 M364.35,140.98a0.85,0.85 0 1,0 1.7,0a0.85,0.85 0 1,0 -1.7,0 M365.99,138.02a0.85,0.85 0 1,0 1.7,0a0.85,0.85 0 1,0 -1.7,0 M368.57,131.72a0.85,0.85 0 1,0 1.7,0a0.85,0.85 0 1,0 -1.7,0 M369.69,151.59a0.85,0.85 0 1,0 1.7,0a0.85,0.85 0 1,0 -1.7,0 M370.16,144.7a0.85,0.85 0 1,0 1.7,0a0.85,0.85 0 1,0 -1.7,0 M370.45,137.73a0.85,0.85 0 1,0 1.7,0a0.85,0.85 0 1,0 -1.7,0 M370.92,136.16a0.85,0.85 0 1,0 1.7,0a0.85,0.85 0 1,0 -1.7,0 M371.08,141.75a0.85,0.85 0 1,0 1.7,0a0.85,0.85 0 1,0 -1.7,0 M371.19,131.53a0.85,0.85 0 1,0 1.7,0a0.85,0.85 0 1,0 -1.7,0 M371.29,137.48a0.85,0.85 0 1,0 1.7,0a0.85,0.85 0 1,0 -1.7,0 M371.81,147.83a0.85,0.85 0 1,0 1.7,0a0.85,0.85 0 1,0 -1.7,0 M371.87,145.77a0.85,0.85 0 1,0 1.7,0a0.85,0.85 0 1,0 -1.7,0 M372.11,133.16a0.85,0.85 0 1,0 1.7,0a0.85,0.85 0 1,0 -1.7,0 M372.42,135.64a0.85,0.85 0 1,0 1.7,0a0.85,0.85 0 1,0 -1.7,0 M372.48,152.81a0.85,0.85 0 1,0 1.7,0a0.85,0.85 0 1,0 -1.7,0 M374.62,129.24a0.85,0.85 0 1,0 1.7,0a0.85,0.85 0 1,0 -1.7,0 M374.79,134.69a0.85,0.85 0 1,0 1.7,0a0.85,0.85 0 1,0 -1.7,0 M375.02,129.28a0.85,0.85 0 1,0 1.7,0a0.85,0.85 0 1,0 -1.7,0 M375.97,141.85a0.85,0.85 0 1,0 1.7,0a0.85,0.85 0 1,0 -1.7,0 M376.65,141.22a0.85,0.85 0 1,0 1.7,0a0.85,0.85 0 1,0 -1.7,0 M376.82,147.26a0.85,0.85 0 1,0 1.7,0a0.85,0.85 0 1,0 -1.7,0 M378.31,120.68a0.85,0.85 0 1,0 1.7,0a0.85,0.85 0 1,0 -1.7,0 M378.8,140.41a0.85,0.85 0 1,0 1.7,0a0.85,0.85 0 1,0 -1.7,0 M379.18,127.61a0.85,0.85 0 1,0 1.7,0a0.85,0.85 0 1,0 -1.7,0 M379.19,143.85a0.85,0.85 0 1,0 1.7,0a0.85,0.85 0 1,0 -1.7,0 M379.71,137.97a0.85,0.85 0 1,0 1.7,0a0.85,0.85 0 1,0 -1.7,0 M379.76,151.31a0.85,0.85 0 1,0 1.7,0a0.85,0.85 0 1,0 -1.7,0 M379.87,141.95a0.85,0.85 0 1,0 1.7,0a0.85,0.85 0 1,0 -1.7,0 M380.55,132.05a0.85,0.85 0 1,0 1.7,0a0.85,0.85 0 1,0 -1.7,0 M380.78,148.3a0.85,0.85 0 1,0 1.7,0a0.85,0.85 0 1,0 -1.7,0 M382.14,131.48a0.85,0.85 0 1,0 1.7,0a0.85,0.85 0 1,0 -1.7,0 M382.19,136.82a0.85,0.85 0 1,0 1.7,0a0.85,0.85 0 1,0 -1.7,0 M382.2,146.86a0.85,0.85 0 1,0 1.7,0a0.85,0.85 0 1,0 -1.7,0 M382.83,142.95a0.85,0.85 0 1,0 1.7,0a0.85,0.85 0 1,0 -1.7,0 M383.34,142.68a0.85,0.85 0 1,0 1.7,0a0.85,0.85 0 1,0 -1.7,0 M384.15,139.75a0.85,0.85 0 1,0 1.7,0a0.85,0.85 0 1,0 -1.7,0 M384.34,143.3a0.85,0.85 0 1,0 1.7,0a0.85,0.85 0 1,0 -1.7,0 M384.96,145.46a0.85,0.85 0 1,0 1.7,0a0.85,0.85 0 1,0 -1.7,0 M385.17,141.68a0.85,0.85 0 1,0 1.7,0a0.85,0.85 0 1,0 -1.7,0 M385.43,146.95a0.85,0.85 0 1,0 1.7,0a0.85,0.85 0 1,0 -1.7,0 M386.51,148.94a0.85,0.85 0 1,0 1.7,0a0.85,0.85 0 1,0 -1.7,0 M386.84,139.95a0.85,0.85 0 1,0 1.7,0a0.85,0.85 0 1,0 -1.7,0 M387.26,133.23a0.85,0.85 0 1,0 1.7,0a0.85,0.85 0 1,0 -1.7,0 M387.48,150.78a0.85,0.85 0 1,0 1.7,0a0.85,0.85 0 1,0 -1.7,0 M387.7,139.66a0.85,0.85 0 1,0 1.7,0a0.85,0.85 0 1,0 -1.7,0 M387.75,144.41a0.85,0.85 0 1,0 1.7,0a0.85,0.85 0 1,0 -1.7,0 M387.86,146.8a0.85,0.85 0 1,0 1.7,0a0.85,0.85 0 1,0 -1.7,0 M387.92,133.51a0.85,0.85 0 1,0 1.7,0a0.85,0.85 0 1,0 -1.7,0 M388.26,143.51a0.85,0.85 0 1,0 1.7,0a0.85,0.85 0 1,0 -1.7,0 M388.74,128.91a0.85,0.85 0 1,0 1.7,0a0.85,0.85 0 1,0 -1.7,0 M389.14,145.5a0.85,0.85 0 1,0 1.7,0a0.85,0.85 0 1,0 -1.7,0 M389.25,137.04a0.85,0.85 0 1,0 1.7,0a0.85,0.85 0 1,0 -1.7,0 M389.39,141.52a0.85,0.85 0 1,0 1.7,0a0.85,0.85 0 1,0 -1.7,0 M389.66,145.38a0.85,0.85 0 1,0 1.7,0a0.85,0.85 0 1,0 -1.7,0 M391.01,135.79a0.85,0.85 0 1,0 1.7,0a0.85,0.85 0 1,0 -1.7,0 M391.95,141.32a0.85,0.85 0 1,0 1.7,0a0.85,0.85 0 1,0 -1.7,0 M392.02,135.82a0.85,0.85 0 1,0 1.7,0a0.85,0.85 0 1,0 -1.7,0 M392.06,140.55a0.85,0.85 0 1,0 1.7,0a0.85,0.85 0 1,0 -1.7,0 M392.24,148.13a0.85,0.85 0 1,0 1.7,0a0.85,0.85 0 1,0 -1.7,0 M392.52,141.02a0.85,0.85 0 1,0 1.7,0a0.85,0.85 0 1,0 -1.7,0 M392.67,139.92a0.85,0.85 0 1,0 1.7,0a0.85,0.85 0 1,0 -1.7,0 M392.71,133.34a0.85,0.85 0 1,0 1.7,0a0.85,0.85 0 1,0 -1.7,0 M394.06,147.1a0.85,0.85 0 1,0 1.7,0a0.85,0.85 0 1,0 -1.7,0 M394.75,140.92a0.85,0.85 0 1,0 1.7,0a0.85,0.85 0 1,0 -1.7,0 M394.75,153.15a0.85,0.85 0 1,0 1.7,0a0.85,0.85 0 1,0 -1.7,0 M394.96,135.94a0.85,0.85 0 1,0 1.7,0a0.85,0.85 0 1,0 -1.7,0 M395.8,148.69a0.85,0.85 0 1,0 1.7,0a0.85,0.85 0 1,0 -1.7,0 M397.02,154.19a0.85,0.85 0 1,0 1.7,0a0.85,0.85 0 1,0 -1.7,0 M399.77,142.11a0.85,0.85 0 1,0 1.7,0a0.85,0.85 0 1,0 -1.7,0 M400.67,133.88a0.85,0.85 0 1,0 1.7,0a0.85,0.85 0 1,0 -1.7,0 M401.4,153.18a0.85,0.85 0 1,0 1.7,0a0.85,0.85 0 1,0 -1.7,0 M401.95,150.16a0.85,0.85 0 1,0 1.7,0a0.85,0.85 0 1,0 -1.7,0 M402.55,147.82a0.85,0.85 0 1,0 1.7,0a0.85,0.85 0 1,0 -1.7,0 M404.27,151.15a0.85,0.85 0 1,0 1.7,0a0.85,0.85 0 1,0 -1.7,0 M404.42,140.23a0.85,0.85 0 1,0 1.7,0a0.85,0.85 0 1,0 -1.7,0 M405.66,149.26a0.85,0.85 0 1,0 1.7,0a0.85,0.85 0 1,0 -1.7,0 M405.87,148.71a0.85,0.85 0 1,0 1.7,0a0.85,0.85 0 1,0 -1.7,0 M405.9,139.24a0.85,0.85 0 1,0 1.7,0a0.85,0.85 0 1,0 -1.7,0 M407.39,149.5a0.85,0.85 0 1,0 1.7,0a0.85,0.85 0 1,0 -1.7,0 M407.52,140.91a0.85,0.85 0 1,0 1.7,0a0.85,0.85 0 1,0 -1.7,0 M407.69,148.88a0.85,0.85 0 1,0 1.7,0a0.85,0.85 0 1,0 -1.7,0 M407.93,150.72a0.85,0.85 0 1,0 1.7,0a0.85,0.85 0 1,0 -1.7,0 M409.22,155.75a0.85,0.85 0 1,0 1.7,0a0.85,0.85 0 1,0 -1.7,0 M411.69,129.95a0.85,0.85 0 1,0 1.7,0a0.85,0.85 0 1,0 -1.7,0 M411.74,148.12a0.85,0.85 0 1,0 1.7,0a0.85,0.85 0 1,0 -1.7,0 M412.33,144.29a0.85,0.85 0 1,0 1.7,0a0.85,0.85 0 1,0 -1.7,0 M412.34,146.29a0.85,0.85 0 1,0 1.7,0a0.85,0.85 0 1,0 -1.7,0 M412.39,151.84a0.85,0.85 0 1,0 1.7,0a0.85,0.85 0 1,0 -1.7,0 M413,152.93a0.85,0.85 0 1,0 1.7,0a0.85,0.85 0 1,0 -1.7,0 M413.06,139.45a0.85,0.85 0 1,0 1.7,0a0.85,0.85 0 1,0 -1.7,0 M413.27,160.97a0.85,0.85 0 1,0 1.7,0a0.85,0.85 0 1,0 -1.7,0 M413.64,158a0.85,0.85 0 1,0 1.7,0a0.85,0.85 0 1,0 -1.7,0 M414.29,154.37a0.85,0.85 0 1,0 1.7,0a0.85,0.85 0 1,0 -1.7,0 M414.45,156.79a0.85,0.85 0 1,0 1.7,0a0.85,0.85 0 1,0 -1.7,0 M414.98,141.94a0.85,0.85 0 1,0 1.7,0a0.85,0.85 0 1,0 -1.7,0 M414.98,143.17a0.85,0.85 0 1,0 1.7,0a0.85,0.85 0 1,0 -1.7,0 M415.14,156.2a0.85,0.85 0 1,0 1.7,0a0.85,0.85 0 1,0 -1.7,0 M415.85,159.69a0.85,0.85 0 1,0 1.7,0a0.85,0.85 0 1,0 -1.7,0 M416.24,152.38a0.85,0.85 0 1,0 1.7,0a0.85,0.85 0 1,0 -1.7,0 M417.14,138.43a0.85,0.85 0 1,0 1.7,0a0.85,0.85 0 1,0 -1.7,0 M417.21,169.07a0.85,0.85 0 1,0 1.7,0a0.85,0.85 0 1,0 -1.7,0 M417.54,144.94a0.85,0.85 0 1,0 1.7,0a0.85,0.85 0 1,0 -1.7,0 M418.62,157.22a0.85,0.85 0 1,0 1.7,0a0.85,0.85 0 1,0 -1.7,0 M419.33,142.28a0.85,0.85 0 1,0 1.7,0a0.85,0.85 0 1,0 -1.7,0 M419.63,157.86a0.85,0.85 0 1,0 1.7,0a0.85,0.85 0 1,0 -1.7,0 M420.63,152.74a0.85,0.85 0 1,0 1.7,0a0.85,0.85 0 1,0 -1.7,0 M421.92,162.46a0.85,0.85 0 1,0 1.7,0a0.85,0.85 0 1,0 -1.7,0 M422.57,160.19a0.85,0.85 0 1,0 1.7,0a0.85,0.85 0 1,0 -1.7,0 M423.16,143.43a0.85,0.85 0 1,0 1.7,0a0.85,0.85 0 1,0 -1.7,0 M423.37,147.7a0.85,0.85 0 1,0 1.7,0a0.85,0.85 0 1,0 -1.7,0 M423.48,156.65a0.85,0.85 0 1,0 1.7,0a0.85,0.85 0 1,0 -1.7,0 M423.56,158.99a0.85,0.85 0 1,0 1.7,0a0.85,0.85 0 1,0 -1.7,0 M423.87,166.66a0.85,0.85 0 1,0 1.7,0a0.85,0.85 0 1,0 -1.7,0 M424.09,155.91a0.85,0.85 0 1,0 1.7,0a0.85,0.85 0 1,0 -1.7,0 M424.16,153.33a0.85,0.85 0 1,0 1.7,0a0.85,0.85 0 1,0 -1.7,0 M424.47,153.95a0.85,0.85 0 1,0 1.7,0a0.85,0.85 0 1,0 -1.7,0 M424.81,154.27a0.85,0.85 0 1,0 1.7,0a0.85,0.85 0 1,0 -1.7,0 M424.99,161.88a0.85,0.85 0 1,0 1.7,0a0.85,0.85 0 1,0 -1.7,0 M425.01,154.23a0.85,0.85 0 1,0 1.7,0a0.85,0.85 0 1,0 -1.7,0 M426.31,155.04a0.85,0.85 0 1,0 1.7,0a0.85,0.85 0 1,0 -1.7,0 M426.83,145.8a0.85,0.85 0 1,0 1.7,0a0.85,0.85 0 1,0 -1.7,0 M426.93,141.69a0.85,0.85 0 1,0 1.7,0a0.85,0.85 0 1,0 -1.7,0 M427.91,157.05a0.85,0.85 0 1,0 1.7,0a0.85,0.85 0 1,0 -1.7,0 M428.27,161.93a0.85,0.85 0 1,0 1.7,0a0.85,0.85 0 1,0 -1.7,0 M428.68,157.18a0.85,0.85 0 1,0 1.7,0a0.85,0.85 0 1,0 -1.7,0 M429.29,161.65a0.85,0.85 0 1,0 1.7,0a0.85,0.85 0 1,0 -1.7,0 M429.59,162.9a0.85,0.85 0 1,0 1.7,0a0.85,0.85 0 1,0 -1.7,0 M429.62,157.95a0.85,0.85 0 1,0 1.7,0a0.85,0.85 0 1,0 -1.7,0 M429.84,165.31a0.85,0.85 0 1,0 1.7,0a0.85,0.85 0 1,0 -1.7,0 M430.66,154.06a0.85,0.85 0 1,0 1.7,0a0.85,0.85 0 1,0 -1.7,0 M431.41,159.91a0.85,0.85 0 1,0 1.7,0a0.85,0.85 0 1,0 -1.7,0 M432.21,158.1a0.85,0.85 0 1,0 1.7,0a0.85,0.85 0 1,0 -1.7,0 M432.93,164.23a0.85,0.85 0 1,0 1.7,0a0.85,0.85 0 1,0 -1.7,0 M433.87,169.13a0.85,0.85 0 1,0 1.7,0a0.85,0.85 0 1,0 -1.7,0 M433.89,170.75a0.85,0.85 0 1,0 1.7,0a0.85,0.85 0 1,0 -1.7,0 M434.35,166.06a0.85,0.85 0 1,0 1.7,0a0.85,0.85 0 1,0 -1.7,0 M434.76,166.45a0.85,0.85 0 1,0 1.7,0a0.85,0.85 0 1,0 -1.7,0 M434.93,160.93a0.85,0.85 0 1,0 1.7,0a0.85,0.85 0 1,0 -1.7,0 M436.1,163.9a0.85,0.85 0 1,0 1.7,0a0.85,0.85 0 1,0 -1.7,0 M436.28,173.97a0.85,0.85 0 1,0 1.7,0a0.85,0.85 0 1,0 -1.7,0 M437.13,164.5a0.85,0.85 0 1,0 1.7,0a0.85,0.85 0 1,0 -1.7,0 M437.23,174.86a0.85,0.85 0 1,0 1.7,0a0.85,0.85 0 1,0 -1.7,0 M437.77,170.19a0.85,0.85 0 1,0 1.7,0a0.85,0.85 0 1,0 -1.7,0 M438.82,169.05a0.85,0.85 0 1,0 1.7,0a0.85,0.85 0 1,0 -1.7,0 M439.06,182.27a0.85,0.85 0 1,0 1.7,0a0.85,0.85 0 1,0 -1.7,0 M440.31,168.01a0.85,0.85 0 1,0 1.7,0a0.85,0.85 0 1,0 -1.7,0 M441.26,168.75a0.85,0.85 0 1,0 1.7,0a0.85,0.85 0 1,0 -1.7,0" fill="#e3211c"/>
<rect x="282.0" y="15.0" width="166.5" height="165.1" fill="none" stroke="#000" stroke-width="1.35"/>
<path d="M282.0,97.3H448.5" stroke="#000" stroke-width="1.35"/>
<path d="M335.5,15.0v3 M335.5,97.3v-3 M335.5,97.3v3 M335.5,180.1v-3 M389.5,15.0v3 M389.5,97.3v-3 M389.5,97.3v3 M389.5,180.1v-3 M442.5,15.0v3 M442.5,97.3v-3 M442.5,97.3v3 M442.5,180.1v-3 M282.0,28.5h3 M448.5,28.5h-3 M282.0,55.5h3 M448.5,55.5h-3 M282.0,83.5h3 M448.5,83.5h-3 M282.0,104.5h3 M448.5,104.5h-3 M282.0,139.5h3 M448.5,139.5h-3 M282.0,173.5h3 M448.5,173.5h-3" stroke="#000" stroke-width="1" fill="none"/>
<text x="278.5" y="33" text-anchor="end" font-size="11.5">0</text>
<text x="278.5" y="60.6" text-anchor="end" font-size="11.5">-10</text>
<text x="278.5" y="88.2" text-anchor="end" font-size="11.5">-20</text>
<text x="278.5" y="109.1" text-anchor="end" font-size="11.5">500</text>
<text x="278.5" y="143.7" text-anchor="end" font-size="11.5">0</text>
<text x="278.5" y="178.3" text-anchor="end" font-size="11.5">-500</text>
<text x="282" y="195.0" text-anchor="middle" font-size="11.5">550</text>
<text x="335.5" y="195.0" text-anchor="middle" font-size="11.5">560</text>
<text x="389" y="195.0" text-anchor="middle" font-size="11.5">570</text>
<text x="442.5" y="195.0" text-anchor="middle" font-size="11.5">580</text>
<text x="362.9" y="210.5" text-anchor="middle" font-size="14.7">Frequency (THz)</text>
<text transform="translate(251.6,54.2) rotate(-90)" text-anchor="middle" font-size="14.7"><tspan font-style="italic">D</tspan><tspan font-size="9.5" dy="2.5">int</tspan><tspan dy="-2.5">/2<tspan font-family="Liberation Serif">π</tspan> (GHz)</tspan></text>
<text transform="translate(251.6,137.9) rotate(-90)" text-anchor="middle" font-size="14.7">Dev. (MHz)</text>
<text x="318.4" y="60.9" font-size="11.6"><tspan font-style="italic">ω</tspan><tspan font-size="6.5" dy="1.7">0</tspan><tspan dy="-1.7">/2<tspan font-family="Liberation Serif">π</tspan> = 566 THz</tspan></text>
<text x="318.4" y="76.3" font-size="11.6"><tspan font-style="italic">D</tspan><tspan font-size="6.5" dy="1.7">1</tspan><tspan dy="-1.7">/2<tspan font-family="Liberation Serif">π</tspan> = 96.2 GHz</tspan></text>
<text x="318.4" y="92.7" font-size="11.6"><tspan font-style="italic">D</tspan><tspan font-size="6.5" dy="1.7">2</tspan><tspan dy="-1.7">/2<tspan font-family="Liberation Serif">π</tspan> = -2.2 MHz</tspan></text>
<text x="323.6" y="175" font-size="11.6"><tspan font-style="italic">D</tspan><tspan font-size="6.5" dy="1.7">3</tspan><tspan dy="-1.7">/2<tspan font-family="Liberation Serif">π</tspan> = -0.9 kHz</tspan></text>
<path d="M396.2,22.2H412.8 M395.9,105.2H412.8" stroke="#2f5cae" stroke-width="1.2"/>
<circle cx="404.3" cy="34.8" r="2" fill="#e3211c"/><circle cx="404.3" cy="117.7" r="2" fill="#e3211c"/>
<text x="414.4" y="26.2" font-size="11.8"><tspan font-style="italic">D</tspan><tspan font-size="6.6" dy="1.8">int</tspan><tspan dy="-1.8"> fit</tspan></text>
<text x="413.4" y="38.6" font-size="11.8">Data</text>
<text x="414.6" y="109.2" font-size="11.8"><tspan font-style="italic">D</tspan><tspan font-size="6.8" dy="1.8">3</tspan><tspan dy="-1.8"> fit</tspan></text>
<text x="413.6" y="121.4" font-size="11.8">Data</text>
<text x="233.5" y="12.7" font-size="17.5" font-weight="bold">b</text>
<path clip-path="url(#cc)" d="M504.82,27 L504.97,27 L505.12,27 L505.26,27 L505.41,27 L505.56,27 L505.7,27 L505.85,27 L505.99,27 L506.14,27 L506.29,27 L506.43,27 L506.58,27 L506.73,27 L506.87,27 L507.02,27 L507.16,27 L507.31,27 L507.46,27 L507.6,27 L507.75,27 L507.9,27 L508.04,27 L508.19,27 L508.33,27 L508.48,27 L508.63,27 L508.77,27 L508.92,27 L509.07,27 L509.21,27 L509.36,27 L509.5,27 L509.65,27 L509.8,27 L509.94,27 L510.09,27 L510.24,27 L510.38,27 L510.53,27 L510.67,27 L510.82,27 L510.97,27 L511.11,27 L511.26,27 L511.41,27 L511.55,27 L511.7,27 L511.84,27 L511.99,27 L512.14,27 L512.28,27 L512.43,27 L512.58,27 L512.72,27 L512.87,27 L513.01,27 L513.16,27 L513.31,27 L513.45,27 L513.6,27 L513.75,27 L513.89,27 L514.04,27 L514.18,27 L514.33,27 L514.48,27 L514.62,27 L514.77,27 L514.92,27 L515.06,27 L515.21,27 L515.35,27 L515.5,27 L515.65,27 L515.79,27 L515.94,27 L516.09,27 L516.23,27 L516.38,27 L516.52,27 L516.67,27 L516.82,27 L516.96,27 L517.11,27 L517.26,27 L517.4,27 L517.55,27 L517.69,27 L517.84,27 L517.99,27 L518.13,27 L518.28,27 L518.43,27 L518.57,27 L518.72,27 L518.86,27 L519.01,27 L519.16,27 L519.3,27 L519.45,27 L519.6,27 L519.74,27 L519.89,27 L520.03,27 L520.18,27 L520.33,27 L520.47,27 L520.62,27 L520.77,27 L520.91,27 L521.06,27 L521.2,27 L521.35,27 L521.5,27 L521.64,27 L521.79,27 L521.94,27 L522.08,27 L522.23,27 L522.37,27 L522.52,27 L522.67,27 L522.81,27 L522.96,27 L523.11,27 L523.25,27 L523.4,27 L523.54,27 L523.69,27 L523.84,27 L523.98,27 L524.13,27 L524.28,27 L524.42,27 L524.57,27 L524.71,27 L524.86,27 L525.01,27 L525.15,27 L525.3,27 L525.45,27 L525.59,27 L525.74,27 L525.88,27 L526.03,27 L526.18,27 L526.32,27 L526.47,27 L526.62,27 L526.76,27 L526.91,27 L527.05,27 L527.2,27 L527.35,27 L527.49,27 L527.64,27 L527.79,27 L527.93,27 L528.08,27 L528.22,27 L528.37,27 L528.52,27 L528.66,27 L528.81,27 L528.96,27 L529.1,27 L529.25,27 L529.39,27 L529.54,27 L529.69,27 L529.83,27 L529.98,27 L530.13,27 L530.27,27 L530.42,27 L530.56,27 L530.71,27 L530.86,27 L531,27 L531.15,27 L531.3,27 L531.44,27 L531.59,27 L531.73,27 L531.88,27 L532.03,27 L532.17,27 L532.32,27 L532.47,27 L532.61,27 L532.76,27 L532.9,27 L533.05,27 L533.2,27 L533.34,27.01 L533.49,27.01 L533.64,27.01 L533.78,27.01 L533.93,27.01 L534.07,27.01 L534.22,27.01 L534.37,27.01 L534.51,27.01 L534.66,27.01 L534.81,27.01 L534.95,27.01 L535.1,27.01 L535.24,27.01 L535.39,27.01 L535.54,27.01 L535.68,27.01 L535.83,27.02 L535.98,27.02 L536.12,27.02 L536.27,27.02 L536.41,27.02 L536.56,27.02 L536.71,27.02 L536.85,27.02 L537,27.03 L537.15,27.03 L537.29,27.03 L537.44,27.03 L537.58,27.03 L537.73,27.03 L537.88,27.04 L538.02,27.04 L538.17,27.04 L538.32,27.04 L538.46,27.04 L538.61,27.05 L538.75,27.05 L538.9,27.05 L539.05,27.06 L539.19,27.06 L539.34,27.06 L539.49,27.06 L539.63,27.07 L539.78,27.07 L539.92,27.07 L540.07,27.08 L540.22,27.08 L540.36,27.09 L540.51,27.09 L540.66,27.09 L540.8,27.1 L540.95,27.1 L541.09,27.11 L541.24,27.11 L541.39,27.12 L541.53,27.12 L541.68,27.13 L541.83,27.14 L541.97,27.14 L542.12,27.15 L542.26,27.16 L542.41,27.16 L542.56,27.17 L542.7,27.18 L542.85,27.18 L543,27.19 L543.14,27.2 L543.29,27.21 L543.43,27.22 L543.58,27.22 L543.73,27.23 L543.87,27.24 L544.02,27.25 L544.17,27.26 L544.31,27.27 L544.46,27.28 L544.6,27.29 L544.75,27.31 L544.9,27.32 L545.04,27.33 L545.19,27.34 L545.34,27.35 L545.48,27.37 L545.63,27.38 L545.77,27.39 L545.92,27.41 L546.07,27.42 L546.21,27.44 L546.36,27.45 L546.51,27.47 L546.65,27.48 L546.8,27.5 L546.94,27.51 L547.09,27.53 L547.24,27.55 L547.38,27.57 L547.53,27.59 L547.68,27.6 L547.82,27.62 L547.97,27.64 L548.11,27.66 L548.26,27.68 L548.41,27.7 L548.55,27.72 L548.7,27.75 L548.85,27.77 L548.99,27.79 L549.14,27.81 L549.28,27.84 L549.43,27.86 L549.58,27.89 L549.72,27.91 L549.87,27.94 L550.02,27.96 L550.16,27.99 L550.31,28.02 L550.45,28.04 L550.6,28.07 L550.75,28.1 L550.89,28.13 L551.04,28.16 L551.19,28.19 L551.33,28.22 L551.48,28.25 L551.62,28.28 L551.77,28.32 L551.92,28.35 L552.06,28.38 L552.21,28.42 L552.36,28.45 L552.5,28.49 L552.65,28.52 L552.79,28.56 L552.94,28.59 L553.09,28.63 L553.23,28.67 L553.38,28.71 L553.53,28.75 L553.67,28.79 L553.82,28.83 L553.96,28.87 L554.11,28.91 L554.26,28.95 L554.4,28.99 L554.55,29.04 L554.7,29.08 L554.84,29.12 L554.99,29.17 L555.13,29.21 L555.28,29.26 L555.43,29.31 L555.57,29.35 L555.72,29.4 L555.87,29.45 L556.01,29.5 L556.16,29.55 L556.3,29.6 L556.45,29.65 L556.6,29.7 L556.74,29.76 L556.89,29.81 L557.04,29.86 L557.18,29.92 L557.33,29.97 L557.47,30.03 L557.62,30.08 L557.77,30.14 L557.91,30.2 L558.06,30.26 L558.21,30.32 L558.35,30.38 L558.5,30.44 L558.64,30.5 L558.79,30.56 L558.94,30.62 L559.08,30.69 L559.23,30.75 L559.38,30.81 L559.52,30.88 L559.67,30.95 L559.81,31.01 L559.96,31.08 L560.11,31.15 L560.25,31.22 L560.4,31.29 L560.55,31.36 L560.69,31.43 L560.84,31.5 L560.98,31.58 L561.13,31.65 L561.28,31.73 L561.42,31.8 L561.57,31.88 L561.72,31.96 L561.86,32.03 L562.01,32.11 L562.15,32.19 L562.3,32.27 L562.45,32.36 L562.59,32.44 L562.74,32.52 L562.89,32.61 L563.03,32.69 L563.18,32.78 L563.32,32.87 L563.47,32.96 L563.62,33.05 L563.76,33.14 L563.91,33.23 L564.05,33.32 L564.2,33.42 L564.35,33.51 L564.49,33.61 L564.64,33.71 L564.79,33.8 L564.93,33.9 L565.08,34 L565.22,34.11 L565.37,34.21 L565.52,34.32 L565.66,34.42 L565.81,34.53 L565.96,34.64 L566.1,34.75 L566.25,34.86 L566.39,34.97 L566.54,35.09 L566.69,35.2 L566.83,35.32 L566.98,35.44 L567.13,35.56 L567.27,35.68 L567.42,35.81 L567.56,35.93 L567.71,36.06 L567.86,36.19 L568,36.32 L568.15,36.45 L568.3,36.58 L568.44,36.72 L568.59,36.86 L568.73,37 L568.88,37.14 L569.03,37.29 L569.17,37.43 L569.32,37.58 L569.47,37.73 L569.61,37.88 L569.76,38.04 L569.9,38.2 L570.05,38.36 L570.2,38.52 L570.34,38.68 L570.49,38.85 L570.64,39.02 L570.78,39.2 L570.93,39.37 L571.07,39.55 L571.22,39.73 L571.37,39.92 L571.51,40.1 L571.66,40.29 L571.81,40.49 L571.95,40.69 L572.1,40.89 L572.24,41.09 L572.39,41.3 L572.54,41.51 L572.68,41.72 L572.83,41.94 L572.98,42.17 L573.12,42.39 L573.27,42.62 L573.41,42.86 L573.56,43.1 L573.71,43.34 L573.85,43.59 L574,43.84 L574.15,44.1 L574.29,44.36 L574.44,44.63 L574.58,44.9 L574.73,45.18 L574.88,45.46 L575.02,45.75 L575.17,46.05 L575.32,46.35 L575.46,46.66 L575.61,46.97 L575.75,47.29 L575.9,47.61 L576.05,47.95 L576.19,48.29 L576.34,48.63 L576.49,48.99 L576.63,49.35 L576.78,49.72 L576.92,50.1 L577.07,50.48 L577.22,50.88 L577.36,51.28 L577.51,51.69 L577.66,52.11 L577.8,52.54 L577.95,52.98 L578.09,53.43 L578.24,53.89 L578.39,54.36 L578.53,54.84 L578.68,55.33 L578.83,55.84 L578.97,56.35 L579.12,56.88 L579.26,57.42 L579.41,57.97 L579.56,58.54 L579.7,59.12 L579.85,59.71 L580,60.32 L580.14,60.95 L580.29,61.58 L580.43,62.24 L580.58,62.91 L580.73,63.59 L580.87,64.29 L581.02,65.02 L581.17,65.75 L581.31,66.51 L581.46,67.29 L581.6,68.08 L581.75,68.9 L581.9,69.73 L582.04,70.59 L582.19,71.46 L582.34,72.36 L582.48,73.29 L582.63,74.23 L582.77,75.2 L582.92,76.19 L583.07,77.21 L583.21,78.26 L583.36,79.32 L583.51,80.42 L583.65,81.54 L583.8,82.69 L583.94,83.87 L584.09,85.08 L584.24,86.31 L584.38,87.58 L584.53,88.87 L584.68,90.2 L584.82,91.55 L584.97,92.94 L585.11,94.36 L585.26,95.8 L585.41,97.28 L585.55,98.79 L585.7,100.33 L585.85,101.91 L585.99,103.51 L586.14,105.14 L586.28,106.8 L586.43,108.49 L586.58,110.2 L586.72,111.95 L586.87,113.72 L587.02,115.51 L587.16,117.32 L587.31,119.16 L587.45,121.01 L587.6,122.88 L587.75,124.76 L587.89,126.65 L588.04,128.55 L588.19,130.46 L588.33,132.36 L588.48,134.26 L588.62,136.15 L588.77,138.03 L588.92,139.89 L589.06,141.73 L589.21,143.54 L589.36,145.32 L589.5,147.06 L589.65,148.75 L589.79,150.39 L589.94,151.98 L590.09,153.5 L590.23,154.95 L590.38,156.33 L590.53,157.62 L590.67,158.83 L590.82,159.95 L590.96,160.96 L591.11,161.87 L591.26,162.68 L591.4,163.37 L591.55,163.95 L591.7,164.41 L591.84,164.75 L591.99,164.96 L592.13,165.06 L592.28,165.02 L592.43,164.87 L592.57,164.59 L592.72,164.19 L592.87,163.66 L593.01,163.03 L593.16,162.27 L593.3,161.41 L593.45,160.44 L593.6,159.38 L593.74,158.21 L593.89,156.96 L594.04,155.62 L594.18,154.2 L594.33,152.71 L594.47,151.16 L594.62,149.54 L594.77,147.87 L594.91,146.16 L595.06,144.4 L595.21,142.6 L595.35,140.78 L595.5,138.92 L595.64,137.05 L595.79,135.17 L595.94,133.27 L596.08,131.37 L596.23,129.47 L596.38,127.56 L596.52,125.67 L596.67,123.78 L596.81,121.9 L596.96,120.04 L597.11,118.2 L597.25,116.37 L597.4,114.57 L597.55,112.79 L597.69,111.04 L597.84,109.31 L597.98,107.6 L598.13,105.93 L598.28,104.28 L598.42,102.67 L598.57,101.08 L598.72,99.53 L598.86,98 L599.01,96.51 L599.15,95.05 L599.3,93.61 L599.45,92.21 L599.59,90.84 L599.74,89.5 L599.89,88.2 L600.03,86.92 L600.18,85.67 L600.32,84.45 L600.47,83.25 L600.62,82.09 L600.76,80.95 L600.91,79.85 L601.06,78.76 L601.2,77.71 L601.35,76.68 L601.49,75.67 L601.64,74.69 L601.79,73.74 L601.93,72.8 L602.08,71.89 L602.23,71 L602.37,70.14 L602.52,69.29 L602.66,68.47 L602.81,67.66 L602.96,66.88 L603.1,66.11 L603.25,65.37 L603.4,64.64 L603.54,63.93 L603.69,63.23 L603.83,62.55 L603.98,61.89 L604.13,61.25 L604.27,60.62 L604.42,60 L604.57,59.4 L604.71,58.82 L604.86,58.24 L605,57.68 L605.15,57.14 L605.3,56.6 L605.44,56.08 L605.59,55.57 L605.74,55.08 L605.88,54.59 L606.03,54.11 L606.17,53.65 L606.32,53.19 L606.47,52.75 L606.61,52.32 L606.76,51.89 L606.91,51.47 L607.05,51.07 L607.2,50.67 L607.34,50.28 L607.49,49.9 L607.64,49.53 L607.78,49.16 L607.93,48.8 L608.08,48.45 L608.22,48.11 L608.37,47.77 L608.51,47.44 L608.66,47.12 L608.81,46.8 L608.95,46.49 L609.1,46.19 L609.25,45.89 L609.39,45.6 L609.54,45.32 L609.68,45.03 L609.83,44.76 L609.98,44.49 L610.12,44.22 L610.27,43.96 L610.42,43.71 L610.56,43.46 L610.71,43.21 L610.85,42.97 L611,42.73 L611.15,42.5 L611.29,42.27 L611.44,42.05 L611.59,41.83 L611.73,41.61 L611.88,41.4 L612.02,41.19 L612.17,40.98 L612.32,40.78 L612.46,40.58 L612.61,40.39 L612.76,40.2 L612.9,40.01 L613.05,39.82 L613.19,39.64 L613.34,39.46 L613.49,39.28 L613.63,39.11 L613.78,38.93 L613.93,38.76 L614.07,38.6 L614.22,38.43 L614.36,38.27 L614.51,38.11 L614.66,37.96 L614.8,37.8 L614.95,37.65 L615.1,37.5 L615.24,37.36 L615.39,37.21 L615.53,37.07 L615.68,36.93 L615.83,36.79 L615.97,36.65 L616.12,36.51 L616.27,36.38 L616.41,36.25 L616.56,36.12 L616.7,35.99 L616.85,35.87 L617,35.74 L617.14,35.62 L617.29,35.5 L617.44,35.38 L617.58,35.26 L617.73,35.14 L617.87,35.03 L618.02,34.91 L618.17,34.8 L618.31,34.69 L618.46,34.58 L618.61,34.47 L618.75,34.37 L618.9,34.26 L619.04,34.16 L619.19,34.05 L619.34,33.95 L619.48,33.85 L619.63,33.75 L619.78,33.65 L619.92,33.56 L620.07,33.46 L620.21,33.37 L620.36,33.27 L620.51,33.18 L620.65,33.09 L620.8,33 L620.95,32.91 L621.09,32.82 L621.24,32.73 L621.38,32.65 L621.53,32.56 L621.68,32.48 L621.82,32.4 L621.97,32.31 L622.11,32.23 L622.26,32.15 L622.41,32.07 L622.55,31.99 L622.7,31.92 L622.85,31.84 L622.99,31.76 L623.14,31.69 L623.28,31.61 L623.43,31.54 L623.58,31.47 L623.72,31.39 L623.87,31.32 L624.02,31.25 L624.16,31.18 L624.31,31.11 L624.45,31.05 L624.6,30.98 L624.75,30.91 L624.89,30.85 L625.04,30.78 L625.19,30.72 L625.33,30.65 L625.48,30.59 L625.62,30.53 L625.77,30.47 L625.92,30.41 L626.06,30.35 L626.21,30.29 L626.36,30.23 L626.5,30.17 L626.65,30.11 L626.79,30.05 L626.94,30 L627.09,29.94 L627.23,29.89 L627.38,29.83 L627.53,29.78 L627.67,29.73 L627.82,29.68 L627.96,29.63 L628.11,29.57 L628.26,29.52 L628.4,29.47 L628.55,29.43 L628.7,29.38 L628.84,29.33 L628.99,29.28 L629.13,29.24 L629.28,29.19 L629.43,29.15 L629.57,29.1 L629.72,29.06 L629.87,29.01 L630.01,28.97 L630.16,28.93 L630.3,28.89 L630.45,28.85 L630.6,28.81 L630.74,28.77 L630.89,28.73 L631.04,28.69 L631.18,28.65 L631.33,28.61 L631.47,28.58 L631.62,28.54 L631.77,28.5 L631.91,28.47 L632.06,28.43 L632.21,28.4 L632.35,28.37 L632.5,28.33 L632.64,28.3 L632.79,28.27 L632.94,28.24 L633.08,28.21 L633.23,28.17 L633.38,28.14 L633.52,28.12 L633.67,28.09 L633.81,28.06 L633.96,28.03 L634.11,28 L634.25,27.98 L634.4,27.95 L634.55,27.92 L634.69,27.9 L634.84,27.87 L634.98,27.85 L635.13,27.83 L635.28,27.8 L635.42,27.78 L635.57,27.76 L635.72,27.74 L635.86,27.71 L636.01,27.69 L636.15,27.67 L636.3,27.65 L636.45,27.63 L636.59,27.61 L636.74,27.59 L636.89,27.58 L637.03,27.56 L637.18,27.54 L637.32,27.52 L637.47,27.51 L637.62,27.49 L637.76,27.47 L637.91,27.46 L638.06,27.44 L638.2,27.43 L638.35,27.41 L638.49,27.4 L638.64,27.39 L638.79,27.37 L638.93,27.36 L639.08,27.35 L639.23,27.33 L639.37,27.32 L639.52,27.31 L639.66,27.3 L639.81,27.29 L639.96,27.28 L640.1,27.27 L640.25,27.26 L640.4,27.25 L640.54,27.24 L640.69,27.23 L640.83,27.22 L640.98,27.21 L641.13,27.2 L641.27,27.2 L641.42,27.19 L641.57,27.18 L641.71,27.17 L641.86,27.17 L642,27.16 L642.15,27.15 L642.3,27.15 L642.44,27.14 L642.59,27.13 L642.74,27.13 L642.88,27.12 L643.03,27.12 L643.17,27.11 L643.32,27.11 L643.47,27.1 L643.61,27.1 L643.76,27.09 L643.91,27.09 L644.05,27.08 L644.2,27.08 L644.34,27.08 L644.49,27.07 L644.64,27.07 L644.78,27.07 L644.93,27.06 L645.08,27.06 L645.22,27.06 L645.37,27.05 L645.51,27.05 L645.66,27.05 L645.81,27.05 L645.95,27.04 L646.1,27.04 L646.25,27.04 L646.39,27.04 L646.54,27.03 L646.68,27.03 L646.83,27.03 L646.98,27.03 L647.12,27.03 L647.27,27.03 L647.42,27.02 L647.56,27.02 L647.71,27.02 L647.85,27.02 L648,27.02 L648.15,27.02 L648.29,27.02 L648.44,27.02 L648.59,27.02 L648.73,27.01 L648.88,27.01 L649.02,27.01 L649.17,27.01 L649.32,27.01 L649.46,27.01 L649.61,27.01 L649.76,27.01 L649.9,27.01 L650.05,27.01 L650.19,27.01 L650.34,27.01 L650.49,27.01 L650.63,27.01 L650.78,27.01 L650.93,27.01 L651.07,27 L651.22,27 L651.36,27 L651.51,27 L651.66,27 L651.8,27 L651.95,27 L652.1,27 L652.24,27 L652.39,27 L652.53,27 L652.68,27 L652.83,27 L652.97,27 L653.12,27 L653.27,27 L653.41,27 L653.56,27 L653.7,27 L653.85,27 L654,27 L654.14,27 L654.29,27 L654.44,27 L654.58,27 L654.73,27 L654.87,27 L655.02,27 L655.17,27 L655.31,27 L655.46,27 L655.61,27 L655.75,27 L655.9,27 L656.04,27 L656.19,27 L656.34,27 L656.48,27 L656.63,27 L656.78,27 L656.92,27 L657.07,27 L657.21,27 L657.36,27 L657.51,27 L657.65,27 L657.8,27 L657.95,27 L658.09,27 L658.24,27 L658.38,27 L658.53,27 L658.68,27 L658.82,27 L658.97,27 L659.12,27 L659.26,27 L659.41,27 L659.55,27 L659.7,27 L659.85,27 L659.99,27 L660.14,27 L660.29,27 L660.43,27 L660.58,27 L660.72,27 L660.87,27 L661.02,27 L661.16,27 L661.31,27 L661.46,27 L661.6,27 L661.75,27 L661.89,27 L662.04,27 L662.19,27 L662.33,27 L662.48,27 L662.63,27 L662.77,27 L662.92,27 L663.06,27 L663.21,27 L663.36,27 L663.5,27 L663.65,27 L663.8,27 L663.94,27 L664.09,27 L664.23,27 L664.38,27 L664.53,27 L664.67,27 L664.82,27 L664.97,27 L665.11,27 L665.26,27 L665.4,27 L665.55,27 L665.7,27 L665.84,27 L665.99,27 L666.14,27 L666.28,27 L666.43,27 L666.57,27 L666.72,27 L666.87,27 L667.01,27 L667.16,27 L667.31,27 L667.45,27 L667.6,27 L667.74,27 L667.89,27 L668.04,27 L668.18,27 L668.33,27 L668.48,27 L668.62,27 L668.77,27 L668.91,27 L669.06,27 L669.21,27 L669.35,27 L669.5,27 L669.65,27 L669.79,27 L669.94,27 L670.08,27 L670.23,27 L670.38,27 L670.52,27 L670.67,27 L670.82,27 L670.96,27 L671.11,27 L671.25,27 L671.4,27 L671.55,27 L671.69,27 L671.84,27 L671.99,27 L672.13,27 L672.28,27 L672.42,27 L672.57,27 L672.72,27 L672.86,27 L673.01,27 L673.16,27 L673.3,27 L673.45,27 L673.59,27 L673.74,27 L673.89,27 L674.03,27 L674.18,27 L674.33,27 L674.47,27 L674.62,27 L674.76,27 L674.91,27 L675.06,27 L675.2,27 L675.35,27 L675.5,27 L675.64,27 L675.79,27 L675.93,27 L676.08,27 L676.23,27 L676.37,27 L676.52,27 L676.67,27 L676.81,27 L676.96,27 L677.1,27 L677.25,27 L677.4,27 L677.54,27 L677.69,27 L677.84,27 L677.98,27 L678.13,27 L678.27,27 L678.42,27 L678.57,27 L678.71,27 L678.86,27 L679.01,27 L679.15,27 L679.3,27 L679.44,27 L679.59,27 L679.74,27 L679.88,27 L680.03,27 L680.17,27" stroke="#222" stroke-width="1.1" fill="none"/>
<path clip-path="url(#cc)" d="M509,27.36 L509.19,27.52 L509.37,27.46 L509.56,27.02 L509.74,27.13 L509.93,27.58 L510.11,27.18 L510.3,27.36 L510.49,27.69 L510.67,27.51 L510.86,27.91 L511.04,28.26 L511.23,27.66 L511.41,27.09 L511.6,27.01 L511.79,27.69 L511.97,27.79 L512.16,26.88 L512.34,26.52 L512.53,26.83 L512.72,27.34 L512.9,27.09 L513.09,26.98 L513.27,27.62 L513.46,27.7 L513.64,26.77 L513.83,26.41 L514.02,26.51 L514.2,26.76 L514.39,26.84 L514.57,26.88 L514.76,27.27 L514.94,26.18 L515.13,25.85 L515.32,26.91 L515.5,27.21 L515.69,26.91 L515.87,26.46 L516.06,26.74 L516.24,27.79 L516.43,27.72 L516.62,27.09 L516.8,26.96 L516.99,26.49 L517.17,26.42 L517.36,26.6 L517.55,27.1 L517.73,27.08 L517.92,25.95 L518.1,25.98 L518.29,26.64 L518.47,26.85 L518.66,26.31 L518.85,26.69 L519.03,27.37 L519.22,26.88 L519.4,26.57 L519.59,26.89 L519.77,27.04 L519.96,26.99 L520.15,27.05 L520.33,27 L520.52,27.45 L520.7,27.41 L520.89,26.69 L521.07,27.03 L521.26,27.42 L521.45,26.85 L521.63,27.14 L521.82,27.31 L522,27.3 L522.19,26.97 L522.37,25.77 L522.56,25.46 L522.75,26.35 L522.93,26.81 L523.12,26.69 L523.3,26.91 L523.49,26.4 L523.68,26.91 L523.86,27.08 L524.05,26.63 L524.23,26.5 L524.42,26.42 L524.6,27.15 L524.79,27.12 L524.98,26.62 L525.16,26.7 L525.35,26.79 L525.53,26.98 L525.72,27.91 L525.9,27.4 L526.09,26.4 L526.28,26.66 L526.46,26.88 L526.65,26.57 L526.83,26.75 L527.02,27.36 L527.2,27.26 L527.39,26.59 L527.58,27.01 L527.76,27 L527.95,26.73 L528.13,27.54 L528.32,26.86 L528.51,26.5 L528.69,27.4 L528.88,27.49 L529.06,26.7 L529.25,26.14 L529.43,26.61 L529.62,26.89 L529.81,26.47 L529.99,26.84 L530.18,26.96 L530.36,26.73 L530.55,27.04 L530.73,27.19 L530.92,26.97 L531.11,26.78 L531.29,26.99 L531.48,27.14 L531.66,26.54 L531.85,26.3 L532.03,26.37 L532.22,26.01 L532.41,26.1 L532.59,25.71 L532.78,26.2 L532.96,26.7 L533.15,26.51 L533.33,26.12 L533.52,25.39 L533.71,26.73 L533.89,27.66 L534.08,26.71 L534.26,26.08 L534.45,26.04 L534.64,26.32 L534.82,26.41 L535.01,26.13 L535.19,26.31 L535.38,26.16 L535.56,26.91 L535.75,27.03 L535.94,26.58 L536.12,26.45 L536.31,26.15 L536.49,26.78 L536.68,26.55 L536.86,26.54 L537.05,26.98 L537.24,27.19 L537.42,26.86 L537.61,26.11 L537.79,25.72 L537.98,25.93 L538.16,25.9 L538.35,25.83 L538.54,26.22 L538.72,26.01 L538.91,25.58 L539.09,25.89 L539.28,26.33 L539.46,26.26 L539.65,26.13 L539.84,26.37 L540.02,26.02 L540.21,25.83 L540.39,26.02 L540.58,26.16 L540.77,26.19 L540.95,25.74 L541.14,26.01 L541.32,25.42 L541.51,25.14 L541.69,25.21 L541.88,25 L542.07,25.86 L542.25,26.32 L542.44,25.93 L542.62,25.77 L542.81,25.9 L542.99,26.02 L543.18,26.68 L543.37,26.66 L543.55,26.8 L543.74,26.59 L543.92,26.07 L544.11,26.45 L544.29,26.28 L544.48,25.93 L544.67,26.37 L544.85,27.09 L545.04,26.97 L545.22,27.08 L545.41,27.05 L545.6,25.77 L545.78,25.82 L545.97,26.16 L546.15,26.28 L546.34,26.42 L546.52,26.06 L546.71,26.2 L546.9,25.9 L547.08,25.27 L547.27,25.42 L547.45,26.01 L547.64,26.45 L547.82,26.3 L548.01,26.06 L548.2,25.99 L548.38,25.94 L548.57,25.64 L548.75,26.34 L548.94,27.09 L549.12,26.09 L549.31,26.14 L549.5,26.75 L549.68,26.74 L549.87,26.98 L550.05,26.87 L550.24,25.54 L550.42,25.2 L550.61,26.48 L550.8,27.22 L550.98,27 L551.17,26.37 L551.35,26.54 L551.54,27.17 L551.73,26.6 L551.91,26.08 L552.1,26.56 L552.28,27.29 L552.47,27.74 L552.65,27.62 L552.84,27.9 L553.03,27.42 L553.21,26.89 L553.4,27.03 L553.58,26.18 L553.77,25.98 L553.95,27.09 L554.14,27.23 L554.33,26.46 L554.51,27.08 L554.7,27.87 L554.88,27.69 L555.07,27.97 L555.25,27.46 L555.44,27.79 L555.63,28.76 L555.81,28.05 L556,27.8 L556.18,27.7 L556.37,27.58 L556.56,27.77 L556.74,27.53 L556.93,28.27 L557.11,28.74 L557.3,28.3 L557.48,28.32 L557.67,28.06 L557.86,28.5 L558.04,28.88 L558.23,28.35 L558.41,28.07 L558.6,28.67 L558.78,28.15 L558.97,27.17 L559.16,28.5 L559.34,29.29 L559.53,27.97 L559.71,27.89 L559.9,28.79 L560.08,29.23 L560.27,29.6 L560.46,29.69 L560.64,29.79 L560.83,29.55 L561.01,29.6 L561.2,30.12 L561.38,30.51 L561.57,30.48 L561.76,30.48 L561.94,30.63 L562.13,30.06 L562.31,29.98 L562.5,30.28 L562.69,30.4 L562.87,30.68 L563.06,30.97 L563.24,31.22 L563.43,31.03 L563.61,31.43 L563.8,31.35 L563.99,31.09 L564.17,31.96 L564.36,32.28 L564.54,32.38 L564.73,32.29 L564.91,32.44 L565.1,32.23 L565.29,32.4 L565.47,33.75 L565.66,33.88 L565.84,33.93 L566.03,33.84 L566.21,32.9 L566.4,32.81 L566.59,33.81 L566.77,34.47 L566.96,33.53 L567.14,33.31 L567.33,34.1 L567.52,34 L567.7,33.3 L567.89,33.39 L568.07,34.38 L568.26,34.89 L568.44,34.89 L568.63,35.42 L568.82,36.19 L569,36.14 L569.19,36.29 L569.37,36.52 L569.56,36.34 L569.74,35.69 L569.93,36.22 L570.12,37.3 L570.3,37.26 L570.49,37.27 L570.67,37.05 L570.86,37.6 L571.04,38.48 L571.23,39.11 L571.42,39.37 L571.6,38.83 L571.79,38.72 L571.97,39.51 L572.16,39.9 L572.34,39.78 L572.53,39.72 L572.72,40.2 L572.9,40.72 L573.09,41.43 L573.27,42.02 L573.46,41.08 L573.65,41.73 L573.83,42.71 L574.02,42.15 L574.2,42.47 L574.39,43.14 L574.57,43.35 L574.76,43.38 L574.95,43.72 L575.13,44.72 L575.32,45.09 L575.5,45.08 L575.69,45.59 L575.87,45.57 L576.06,45.53 L576.25,45.68 L576.43,46.48 L576.62,46.88 L576.8,46.71 L576.99,47.06 L577.17,47.43 L577.36,48.34 L577.55,49.35 L577.73,49.49 L577.92,50.4 L578.1,51.12 L578.29,51.34 L578.47,52.08 L578.66,53.06 L578.85,53.8 L579.03,53.77 L579.22,53.74 L579.4,53.99 L579.59,54.97 L579.78,56.04 L579.96,56.97 L580.15,57.45 L580.33,57.96 L580.52,58.62 L580.7,58.66 L580.89,59.67 L581.08,61.62 L581.26,62.74 L581.45,63.58 L581.63,64.58 L581.82,64.52 L582,64.95 L582.19,66.92 L582.38,67.77 L582.56,67.82 L582.75,69.24 L582.93,71.03 L583.12,72.15 L583.3,72.99 L583.49,73.85 L583.68,74.78 L583.86,75.87 L584.05,77.2 L584.23,78.53 L584.42,80.13 L584.61,82.62 L584.79,84.41 L584.98,85.32 L585.16,87.01 L585.35,88.46 L585.53,90.15 L585.72,92.56 L585.91,93.73 L586.09,95.02 L586.28,97.37 L586.46,99.24 L586.65,100.95 L586.83,103.22 L587.02,106.58 L587.21,109.1 L587.39,110.6 L587.58,112.97 L587.76,115.03 L587.95,116.59 L588.13,119.2 L588.32,122.42 L588.51,123.95 L588.69,126.14 L588.88,129.75 L589.06,131.96 L589.25,133.82 L589.43,136.6 L589.62,138.88 L589.81,141.19 L589.99,144.13 L590.18,146.18 L590.36,147.8 L590.55,150.22 L590.74,152.41 L590.92,154.15 L591.11,155.08 L591.29,156.97 L591.48,159.01 L591.66,160.15 L591.85,161.89 L592.04,162.64 L592.22,163.12 L592.41,163.57 L592.59,164.21 L592.78,165.11 L592.96,165.45 L593.15,164.88 L593.34,164.11 L593.52,163.21 L593.71,162.49 L593.89,161.64 L594.08,160.1 L594.26,159.1 L594.45,158.67 L594.64,157.52 L594.82,155.73 L595.01,152.85 L595.19,150.64 L595.38,148.66 L595.57,145.96 L595.75,143.53 L595.94,141.06 L596.12,139.33 L596.31,137.35 L596.49,134.85 L596.68,132.27 L596.87,130.03 L597.05,127.65 L597.24,124.45 L597.42,122.62 L597.61,120.69 L597.79,118.03 L597.98,115.72 L598.17,112.79 L598.35,110.61 L598.54,108.42 L598.72,106.78 L598.91,104.54 L599.09,102.11 L599.28,100.25 L599.47,98 L599.65,97.21 L599.84,95.67 L600.02,92.85 L600.21,90.26 L600.39,88.52 L600.58,87.31 L600.77,86.29 L600.95,84.3 L601.14,81.64 L601.32,80.66 L601.51,79.94 L601.7,79.14 L601.88,77.4 L602.07,74.57 L602.25,73.37 L602.44,72.66 L602.62,71.54 L602.81,71.19 L603,69.8 L603.18,68.82 L603.37,68.32 L603.55,66.78 L603.74,65.42 L603.92,64.43 L604.11,63.69 L604.3,63.22 L604.48,62.95 L604.67,61.83 L604.85,60.82 L605.04,60.52 L605.22,59.96 L605.41,58.93 L605.6,58.43 L605.78,58.04 L605.97,57.29 L606.15,56.1 L606.34,54.74 L606.53,53.49 L606.71,53.57 L606.9,53.94 L607.08,52.52 L607.27,51.81 L607.45,51.72 L607.64,50.53 L607.83,50.03 L608.01,50.56 L608.2,50.43 L608.38,49.44 L608.57,48.42 L608.75,48.59 L608.94,48.62 L609.13,47.53 L609.31,46.58 L609.5,46.6 L609.68,46.2 L609.87,45.4 L610.05,45.89 L610.24,45.85 L610.43,44.72 L610.61,44.48 L610.8,45.06 L610.98,44.63 L611.17,43.3 L611.35,42.33 L611.54,43.07 L611.73,42.42 L611.91,41.76 L612.1,42.06 L612.28,40.96 L612.47,40.68 L612.66,40.8 L612.84,41.31 L613.03,40.89 L613.21,40.49 L613.4,41.36 L613.58,39.88 L613.77,38.5 L613.96,38.64 L614.14,38.99 L614.33,38.9 L614.51,37.8 L614.7,37.57 L614.88,37.93 L615.07,38.71 L615.26,38.57 L615.44,38.73 L615.63,39.08 L615.81,38.09 L616,37.65 L616.18,37.56 L616.37,37.08 L616.56,36.16 L616.74,35.5 L616.93,36.03 L617.11,35.9 L617.3,35.99 L617.48,36.38 L617.67,35.63 L617.86,35.8 L618.04,36.06 L618.23,35.94 L618.41,35.66 L618.6,34.47 L618.79,34.63 L618.97,34.99 L619.16,34.9 L619.34,35.25 L619.53,35.24 L619.71,34.18 L619.9,32.78 L620.09,32.99 L620.27,33.96 L620.46,33.75 L620.64,33.49 L620.83,33.34 L621.01,32.99 L621.2,33.06 L621.39,32.83 L621.57,33.02 L621.76,33.26 L621.94,33.55 L622.13,33.45 L622.31,33.24 L622.5,33.02 L622.69,32.75 L622.87,32.55 L623.06,31.95 L623.24,32.38 L623.43,32.73 L623.62,32.46 L623.8,31.8 L623.99,30.77 L624.17,30.63 L624.36,31.26 L624.54,30.95 L624.73,31.27 L624.92,31.16 L625.1,30.76 L625.29,32.19 L625.47,30.92 L625.66,29.29 L625.84,30.51 L626.03,30.92 L626.22,30.54 L626.4,30.48 L626.59,30.85 L626.77,31.04 L626.96,30.27 L627.14,29.87 L627.33,29.53 L627.52,29.5 L627.7,29.02 L627.89,29.22 L628.07,29.88 L628.26,30.23 L628.44,30.7 L628.63,29.48 L628.82,29.29 L629,29.51 L629.19,29.13 L629.37,29.62 L629.56,29.65 L629.75,29.4 L629.93,29.38 L630.12,28.87 L630.3,28.4 L630.49,28.81 L630.67,29.31 L630.86,28.94 L631.05,28.6 L631.23,28.28 L631.42,27.25 L631.6,27.26 L631.79,28.16 L631.97,28.46 L632.16,28.7 L632.35,28.91 L632.53,28.92 L632.72,28.69 L632.9,28.44 L633.09,27.99 L633.27,27.94 L633.46,28.23 L633.65,28.47 L633.83,27.78 L634.02,27.13 L634.2,27.04 L634.39,26.9 L634.58,26.97 L634.76,27.3 L634.95,27.54 L635.13,26.47 L635.32,27.12 L635.5,27.63 L635.69,26.57 L635.88,26.8 L636.06,27.11 L636.25,26.78 L636.43,27.26 L636.62,27.54 L636.8,27.59 L636.99,27.96 L637.18,27.85 L637.36,27.63 L637.55,27.34 L637.73,27.1 L637.92,27.65 L638.1,27.08 L638.29,26.13 L638.48,26.57 L638.66,27.1 L638.85,27.38 L639.03,27.04 L639.22,26.84 L639.4,27.64 L639.59,27.51 L639.78,25.83 L639.96,26.76 L640.15,27.44 L640.33,26.63 L640.52,27.02 L640.71,26.65 L640.89,27.03 L641.08,27.46 L641.26,26.49 L641.45,26.62 L641.63,27.3 L641.82,27.18 L642.01,27.18 L642.19,26.66 L642.38,26.82 L642.56,27.06 L642.75,27.18 L642.93,27.25 L643.12,26.83 L643.31,28.01 L643.49,27.97 L643.68,27.42 L643.86,27.57 L644.05,26.62 L644.23,26.87 L644.42,27.81 L644.61,26.88 L644.79,26.45 L644.98,26.41 L645.16,26.33 L645.35,27.21 L645.54,27.35 L645.72,26.58 L645.91,26.22 L646.09,26.66 L646.28,26.99 L646.46,27.03 L646.65,27.26 L646.84,26.51 L647.02,26.3 L647.21,27.41 L647.39,27.59 L647.58,26.91 L647.76,26.5 L647.95,26.82 L648.14,27.29 L648.32,27.24 L648.51,27.6 L648.69,28.08 L648.88,27.18 L649.06,26.88 L649.25,27.04 L649.44,26.42 L649.62,26.32 L649.81,26.76 L649.99,26.22 L650.18,25.98 L650.36,26.89 L650.55,26.86 L650.74,26.59 L650.92,27.16 L651.11,27.29 L651.29,27.03 L651.48,27.78 L651.67,27.78 L651.85,27.17 L652.04,27.26 L652.22,27.76 L652.41,27.73 L652.59,27.14 L652.78,26.98 L652.97,27.38 L653.15,27.18 L653.34,27.21 L653.52,27.52 L653.71,26.61 L653.89,26.78 L654.08,27.44 L654.27,26.8 L654.45,26.75 L654.64,27.25 L654.82,27.03 L655.01,26.54 L655.19,27.42 L655.38,28.1 L655.57,27.67 L655.75,27.76 L655.94,27.71 L656.12,27.62 L656.31,27.2 L656.49,27.21 L656.68,27.28 L656.87,26.81 L657.05,27.12 L657.24,27.22 L657.42,26.36 L657.61,26.29 L657.8,27.11 L657.98,27.25 L658.17,27.36 L658.35,27.23 L658.54,26.59 L658.72,26.98 L658.91,27.37 L659.1,26.67 L659.28,26.78 L659.47,27.11 L659.65,27.3 L659.84,27.67 L660.02,27.48 L660.21,26.41 L660.4,26.37 L660.58,27.33 L660.77,27.39 L660.95,27.26 L661.14,26.83 L661.32,26.7 L661.51,26.2 L661.7,26.2 L661.88,26.41 L662.07,26.39 L662.25,26.69 L662.44,27.3 L662.63,27.56 L662.81,27.07 L663,27.11 L663.18,27.85 L663.37,27.45 L663.55,26.83 L663.74,27.29 L663.93,27.25 L664.11,27.17 L664.3,26.94 L664.48,27.31 L664.67,27.78 L664.85,27.23 L665.04,26.85 L665.23,27.08 L665.41,27.34 L665.6,27.5 L665.78,27.32 L665.97,26.6 L666.15,26.96 L666.34,26.84 L666.53,26.16 L666.71,26.86 L666.9,26.88 L667.08,27.24 L667.27,28.13 L667.45,28.07 L667.64,27.6 L667.83,27.26 L668.01,27.3 L668.2,27.15 L668.38,27.72 L668.57,27.58 L668.76,27.33 L668.94,27.74 L669.13,27.38 L669.31,27.56 L669.5,27.89 L669.68,27.84 L669.87,27.36 L670.06,26.8 L670.24,26.59 L670.43,27.15 L670.61,27.63 L670.8,27.61 L670.98,27.17 L671.17,27.56 L671.36,27.28 L671.54,26.73 L671.73,27.45 L671.91,27.16 L672.1,26.51 L672.28,26.51 L672.47,26.51 L672.66,26.58 L672.84,26.52 L673.03,26.12 L673.21,26.59 L673.4,26.53 L673.59,26.43 L673.77,26.91 L673.96,27.3 L674.14,27.43 L674.33,26.83 L674.51,27.19 L674.7,27.23 L674.89,26.65 L675.07,26.78 L675.26,27.68 L675.44,27.82 L675.63,26.81 L675.81,27.04 L676,27.24" stroke="#1f4ea3" stroke-width="2.0" fill="none" stroke-linejoin="round"/>
<rect x="509.0" y="15.0" width="167" height="165.1" fill="none" stroke="#000" stroke-width="1.35"/>
<path d="M550.5,15.0v3 M550.5,180.1v-3 M592.5,15.0v3 M592.5,180.1v-3 M634.5,15.0v3 M634.5,180.1v-3 M509.0,168.5h3 M676.0,168.5h-3 M509.0,121.5h3 M676.0,121.5h-3 M509.0,74.5h3 M676.0,74.5h-3 M509.0,27.5h3 M676.0,27.5h-3" stroke="#000" stroke-width="1" fill="none"/>
<text x="505.8" y="173.3" text-anchor="end" font-size="11.5">0.4</text>
<text x="505.8" y="126.1" text-anchor="end" font-size="11.5">0.6</text>
<text x="505.8" y="78.9" text-anchor="end" font-size="11.5">0.8</text>
<text x="505.8" y="31.7" text-anchor="end" font-size="11.5">1</text>
<text x="509" y="195.0" text-anchor="middle" font-size="11.5">-4</text>
<text x="592.5" y="195.0" text-anchor="middle" font-size="11.5">0</text>
<text x="676" y="195.0" text-anchor="middle" font-size="11.5">4</text>
<text x="591.4" y="210.5" text-anchor="middle" font-size="14.7">Relative frequency (GHz)</text>
<text transform="translate(480.3,98.9) rotate(-90)" text-anchor="middle" font-size="14.7">Norm. transmission</text>
<path d="M523.4,148H543.3" stroke="#555" stroke-width="1.3"/><circle cx="533.9" cy="166" r="2" fill="#1f4ea3"/>
<text x="550.3" y="152.2" font-size="11.8">Fit</text><text x="550.5" y="168.6" font-size="11.8">Data</text>
<text x="461.6" y="13.2" font-size="17.5" font-weight="bold">c</text>
<filter id="grain" x="0" y="0" width="100%" height="100%"><feTurbulence type="fractalNoise" baseFrequency="0.9" numOctaves="2" seed="3"/><feColorMatrix type="saturate" values="0"/><feComponentTransfer><feFuncA type="linear" slope="0" intercept="0.10"/></feComponentTransfer><feComposite in2="SourceGraphic" operator="in"/></filter>
<rect x="52" y="297.2" width="158" height="128.5" fill="#575757"/>
<rect x="52" y="297.2" width="158" height="128.5" fill="#575757" filter="url(#grain)" opacity="1"/>
<path d="M83.5,348.4 L182.7,348.4 L185.8,385.6 L82.3,385.6 Q81.6,367 83.5,348.4 Z" fill="#817e4d"/>
<path d="M84,348.4H183.5 M84,385.6H183.5" stroke="#fff" stroke-width="1.7" stroke-dasharray="8.6 5.6" stroke-dashoffset="4.5"/>
<path d="M166.2,328.8V346.5 M166.2,405.3V387.5" stroke="#fff" stroke-width="1.3"/>
<path d="M163.2,341.5L166.2,348L169.2,341.5Z M163.2,392.5L166.2,386L169.2,392.5Z" fill="#fff"/>
<text x="108.2" y="343.8" font-size="14.6" fill="#fff">283 nm</text>
<text x="74.3" y="411.3" font-size="14.6" fill="#fff">500 nm</text>
<path d="M67.3,415.9H133.4" stroke="#fff" stroke-width="1.6"/>
<path clip-path="url(#cd)" d="M46.37,271.96 L47.64,271.9 L48.91,271.84 L50.18,271.79 L51.45,271.74 L52.72,271.69 L53.99,271.65 L55.26,271.61 L56.53,271.57 L57.8,271.53 L59.07,271.5 L60.34,271.46 L61.61,271.44 L62.88,271.41 L64.15,271.39 L65.42,271.37 L66.69,271.35 L67.96,271.34 L69.23,271.32 L70.5,271.31 L71.77,271.31 L73.04,271.3 L74.31,271.3 L75.58,271.3 L76.85,271.3 L78.12,271.31 L79.39,271.32 L80.66,271.33 L81.93,271.34 L83.2,271.36 L84.48,271.37 L85.75,271.39 L87.02,271.42 L88.29,271.44 L89.56,271.47 L90.83,271.5 L92.1,271.53 L93.37,271.56 L94.64,271.6 L95.91,271.64 L97.18,271.68 L98.45,271.72 L99.72,271.77 L100.99,271.81 L102.26,271.86 L103.53,271.91 L104.8,271.97 L106.07,272.02 L107.34,272.08 L108.61,272.14 L109.88,272.2 L111.15,272.27 L112.42,272.33 L113.69,272.4 L114.96,272.47 L116.23,272.54 L117.5,272.61 L118.77,272.69 L120.04,272.77 L121.31,272.85 L122.59,272.93 L123.86,273.01 L125.13,273.1 L126.4,273.19 L127.67,273.28 L128.94,273.37 L130.21,273.46 L131.48,273.55 L132.75,273.65 L134.02,273.75 L135.29,273.85 L136.56,273.95 L137.83,274.05 L139.1,274.16 L140.37,274.27 L141.64,274.37 L142.91,274.49 L144.18,274.6 L145.45,274.71 L146.72,274.83 L147.99,274.94 L149.26,275.06 L150.53,275.18 L151.8,275.3 L153.07,275.43 L154.34,275.55 L155.61,275.68 L156.88,275.81 L158.15,275.94 L159.42,276.07 L160.7,276.2 L161.97,276.34 L163.24,276.47 L164.51,276.61 L165.78,276.75 L167.05,276.89 L168.32,277.03 L169.59,277.18 L170.86,277.32 L172.13,277.47 L173.4,277.62 L174.67,277.77 L175.94,277.92 L177.21,278.07 L178.48,278.23 L179.75,278.38 L181.02,278.54 L182.29,278.7 L183.56,278.85 L184.83,279.02 L186.1,279.18 L187.37,279.34 L188.64,279.51 L189.91,279.67 L191.18,279.84 L192.45,280.01 L193.72,280.18 L194.99,280.35 L196.26,280.52 L197.53,280.7 L198.81,280.87 L200.08,281.05 L201.35,281.24 L202.62,281.43 L203.89,281.62 L205.16,281.81 L206.43,282 L207.7,282.19 L208.97,282.39 L210.24,282.59 L211.51,282.78 L212.78,282.98 L214.05,283.18 L215.32,283.38 L216.59,283.59 L217.86,283.79 L219.13,283.99 L220.4,284.2 L221.67,284.41 L222.94,284.61 L224.21,284.82 L225.48,285.04 L226.75,285.25 L228.02,285.46 L229.29,285.67 L230.56,285.89 L231.83,286.11 L233.1,286.32 L234.37,286.54 L235.64,286.76 L236.92,286.98 L238.19,287.2 L239.46,287.43 L240.73,287.67 L242,287.92 L243.27,288.18 L244.54,288.43 L245.81,288.69 L247.08,288.95 L248.35,289.21 L249.62,289.47 L250.89,289.73 L252.16,289.99 L253.43,290.26 L254.7,290.52 L255.97,290.79 L257.24,291.05 L258.51,291.32 L259.78,291.59 L261.05,291.86 L262.32,292.13 L263.59,292.4 L264.86,292.68 L266.13,292.95 L267.4,293.23 L268.67,293.5 L269.94,293.78 L271.21,294.06 L272.48,294.34 L273.75,294.62 L275.03,294.9 L276.3,295.18 L277.57,295.46 L278.84,295.75 L280.11,296.03 L281.38,296.32 L282.65,296.61 L283.92,296.9 L285.19,297.19 L286.46,297.48 L287.73,297.77 L289,298.06 L290.27,298.35 L291.54,298.65 L292.81,298.94 L294.08,299.24 L295.35,299.54 L296.62,299.84 L297.89,300.14 L299.16,300.44 L300.43,300.73 L301.7,301.01 L302.97,301.29 L304.24,301.57 L305.51,301.85 L306.78,302.13 L308.05,302.42 L309.32,302.7 L310.59,302.99 L311.86,303.27 L313.14,303.56 L314.41,303.85 L315.68,304.14 L316.95,304.43 L318.22,304.72 L319.49,305.01 L320.76,305.31 L322.03,305.6 L323.3,305.9 L324.57,306.19 L325.84,306.49 L327.11,306.79 L328.38,307.09 L329.65,307.39 L330.92,307.69 L332.19,307.99 L333.46,308.3 L334.73,308.6 L336,308.91 L337.27,309.21 L338.54,309.52 L339.81,309.83 L341.08,310.14 L342.35,310.45 L343.62,310.76 L344.89,311.07 L346.16,311.38 L347.43,311.7 L348.7,312.01 L349.97,312.33 L351.25,312.65 L352.52,312.97 L353.79,313.29 L355.06,313.61 L356.33,313.93 L357.6,314.25 L358.87,314.57 L360.14,314.9 L361.41,315.22 L362.68,315.55 L363.95,315.88 L365.22,316.2 L366.49,316.53 L367.76,316.86 L369.03,317.2 L370.3,317.53 L371.57,317.86 L372.84,318.2 L374.11,318.53 L375.38,318.87 L376.65,319.21 L377.92,319.54 L379.19,319.88 L380.46,320.22 L381.73,320.55 L383,320.88 L384.27,321.21 L385.54,321.54 L386.81,321.87 L388.09,322.21 L389.36,322.54 L390.63,322.88 L391.9,323.22 L393.17,323.55 L394.44,323.89 L395.71,324.23 L396.98,324.57 L398.25,324.92 L399.52,325.26 L400.79,325.61 L402.06,325.95 L403.33,326.3 L404.6,326.64 L405.87,326.99 L407.14,327.34 L408.41,327.69 L409.68,328.05 L410.95,328.4 L412.22,328.75 L413.49,329.11 L414.76,329.47 L416.03,329.82 L417.3,330.18 L418.57,330.54 L419.84,330.9 L421.11,331.26 L422.38,331.63 L423.65,331.99 L424.92,332.36 L426.2,332.72 L427.47,333.09 L428.74,333.46 L430.01,333.83 L431.28,334.2 L432.55,334.57 L433.82,334.94 L435.09,335.32 L436.36,335.69 L437.63,336.07 L438.9,336.45 L440.17,336.83 L441.44,337.21 L442.71,337.59 L443.98,337.97 L445.25,338.35 L446.52,338.74 L447.79,339.12 L449.06,339.51 L450.33,339.9 L451.6,340.29 L452.87,340.68 L454.14,341.07 L455.41,341.46 L456.68,341.85 L457.95,342.25 L459.22,342.65 L460.49,343.04 L461.76,343.44 L463.03,343.84 L464.31,344.24 L465.58,344.64 L466.85,345.05 L468.12,345.45 L469.39,345.86 L470.66,346.26 L471.93,346.67 L473.2,347.08 L474.47,347.49 L475.74,347.9 L477.01,348.32 L478.28,348.73 L479.55,349.15 L480.82,349.56 L482.09,349.98 L483.36,350.4 L484.63,350.82 L485.9,351.24 L487.17,351.66 L488.44,352.09 L489.71,352.51 L490.98,352.94 L492.25,353.37 L493.52,353.8 L494.79,354.23 L496.06,354.66 L497.33,355.09 L498.6,355.52 L499.87,355.96 L501.14,356.4 L502.42,356.83 L503.69,357.27 L504.96,357.71 L506.23,358.15 L507.5,358.6 L508.77,359.04 L510.04,359.49 L511.31,359.93 L512.58,360.38 L513.85,360.83 L515.12,361.28 L516.39,361.73 L517.66,362.19 L518.93,362.64 L520.2,363.1 L521.47,363.55 L522.74,364.01 L524.01,364.47 L525.28,364.93 L526.55,365.39 L527.82,365.86 L529.09,366.32 L530.36,366.79 L531.63,367.25 L532.9,367.72 L534.17,368.19 L535.44,368.66 L536.71,369.14 L537.98,369.61 L539.25,370.09 L540.53,370.56 L541.8,371.04 L543.07,371.52 L544.34,372 L545.61,372.48 L546.88,372.96 L548.15,373.45 L549.42,373.93 L550.69,374.42 L551.96,374.91 L553.23,375.4 L554.5,375.89 L555.77,376.38 L557.04,376.88 L558.31,377.37 L559.58,377.87 L560.85,378.36 L562.12,378.86 L563.39,379.36 L564.66,379.87 L565.93,380.37 L567.2,380.87 L568.47,381.38 L569.74,381.89 L571.01,382.39 L572.28,382.9 L573.55,383.41 L574.82,383.93 L576.09,384.44 L577.36,384.96 L578.64,385.47 L579.91,385.99 L581.18,386.51 L582.45,387.03 L583.72,387.55 L584.99,388.07 L586.26,388.6 L587.53,389.12 L588.8,389.65 L590.07,390.18 L591.34,390.71 L592.61,391.24 L593.88,391.77 L595.15,392.31 L596.42,392.84 L597.69,393.38 L598.96,393.92 L600.23,394.45 L601.5,394.99 L602.77,395.54 L604.04,396.08 L605.31,396.62 L606.58,397.17 L607.85,397.72 L609.12,398.26 L610.39,398.81 L611.66,399.36 L612.93,399.92 L614.2,400.47 L615.47,401.03 L616.75,401.58 L618.02,402.14 L619.29,402.7 L620.56,403.26 L621.83,403.82 L623.1,404.38 L624.37,404.95 L625.64,405.51 L626.91,406.08 L628.18,406.65 L629.45,407.22 L630.72,407.79 L631.99,408.36 L633.26,408.93 L634.53,409.51 L635.8,410.08 L637.07,410.66 L638.34,411.24 L639.61,411.82 L640.88,412.4 L642.15,412.98 L643.42,413.56 L644.69,414.15 L645.96,414.73 L647.23,415.32 L648.5,415.91 L649.77,416.5 L651.04,417.09 L652.31,417.68 L653.58,418.27 L654.86,418.87 L656.13,419.46 L657.4,420.06 L658.67,420.66 L659.94,421.26 L661.21,421.86 L662.48,422.46 L663.75,423.06 L665.02,423.67 L666.29,424.27 L667.56,424.88 L668.83,425.49 L670.1,426.1 L671.37,426.71 L672.64,427.32 L673.91,427.93 L675.18,428.54 L676.45,429.16 L677.72,429.77 L678.99,430.39 L680.26,431" stroke="#6cb33f" stroke-width="1.2" fill="none"/>
<path clip-path="url(#cd)" d="M46.37,272.16 L47.64,272.1 L48.91,272.04 L50.18,271.99 L51.45,271.94 L52.72,271.89 L53.99,271.85 L55.26,271.81 L56.53,271.77 L57.8,271.73 L59.07,271.7 L60.34,271.66 L61.61,271.64 L62.88,271.61 L64.15,271.59 L65.42,271.57 L66.69,271.55 L67.96,271.54 L69.23,271.52 L70.5,271.51 L71.77,271.51 L73.04,271.5 L74.31,271.5 L75.58,271.5 L76.85,271.5 L78.12,271.51 L79.39,271.52 L80.66,271.53 L81.93,271.54 L83.2,271.56 L84.48,271.57 L85.75,271.59 L87.02,271.62 L88.29,271.64 L89.56,271.67 L90.83,271.7 L92.1,271.73 L93.37,271.76 L94.64,271.8 L95.91,271.84 L97.18,271.88 L98.45,271.92 L99.72,271.97 L100.99,272.02 L102.26,272.07 L103.53,272.12 L104.8,272.18 L106.07,272.24 L107.34,272.3 L108.61,272.37 L109.88,272.43 L111.15,272.5 L112.42,272.57 L113.69,272.64 L114.96,272.71 L116.23,272.79 L117.5,272.87 L118.77,272.95 L120.04,273.03 L121.31,273.11 L122.59,273.2 L123.86,273.28 L125.13,273.37 L126.4,273.47 L127.67,273.56 L128.94,273.65 L130.21,273.75 L131.48,273.85 L132.75,273.95 L134.02,274.05 L135.29,274.15 L136.56,274.26 L137.83,274.37 L139.1,274.48 L140.37,274.59 L141.64,274.7 L142.91,274.81 L144.18,274.93 L145.45,275.05 L146.72,275.17 L147.99,275.29 L149.26,275.41 L150.53,275.53 L151.8,275.66 L153.07,275.79 L154.34,275.92 L155.61,276.05 L156.88,276.18 L158.15,276.31 L159.42,276.45 L160.7,276.59 L161.97,276.72 L163.24,276.86 L164.51,277.01 L165.78,277.15 L167.05,277.29 L168.32,277.44 L169.59,277.59 L170.86,277.74 L172.13,277.89 L173.4,278.04 L174.67,278.19 L175.94,278.35 L177.21,278.5 L178.48,278.66 L179.75,278.82 L181.02,278.98 L182.29,279.14 L183.56,279.31 L184.83,279.47 L186.1,279.64 L187.37,279.8 L188.64,279.97 L189.91,280.14 L191.18,280.31 L192.45,280.49 L193.72,280.66 L194.99,280.84 L196.26,281.01 L197.53,281.19 L198.81,281.37 L200.08,281.55 L201.35,281.73 L202.62,281.92 L203.89,282.1 L205.16,282.29 L206.43,282.48 L207.7,282.67 L208.97,282.86 L210.24,283.05 L211.51,283.24 L212.78,283.44 L214.05,283.63 L215.32,283.83 L216.59,284.03 L217.86,284.23 L219.13,284.43 L220.4,284.63 L221.67,284.83 L222.94,285.03 L224.21,285.24 L225.48,285.45 L226.75,285.65 L228.02,285.86 L229.29,286.07 L230.56,286.28 L231.83,286.49 L233.1,286.71 L234.37,286.92 L235.64,287.14 L236.92,287.35 L238.19,287.57 L239.46,287.79 L240.73,288.01 L242,288.23 L243.27,288.45 L244.54,288.67 L245.81,288.9 L247.08,289.12 L248.35,289.35 L249.62,289.58 L250.89,289.81 L252.16,290.04 L253.43,290.27 L254.7,290.51 L255.97,290.74 L257.24,290.98 L258.51,291.22 L259.78,291.45 L261.05,291.69 L262.32,291.93 L263.59,292.18 L264.86,292.42 L266.13,292.66 L267.4,292.91 L268.67,293.15 L269.94,293.4 L271.21,293.65 L272.48,293.9 L273.75,294.15 L275.03,294.4 L276.3,294.65 L277.57,294.9 L278.84,295.16 L280.11,295.41 L281.38,295.67 L282.65,295.92 L283.92,296.18 L285.19,296.44 L286.46,296.7 L287.73,296.96 L289,297.22 L290.27,297.49 L291.54,297.75 L292.81,298.02 L294.08,298.28 L295.35,298.55 L296.62,298.82 L297.89,299.09 L299.16,299.36 L300.43,299.63 L301.7,299.89 L302.97,300.16 L304.24,300.43 L305.51,300.7 L306.78,300.97 L308.05,301.24 L309.32,301.51 L310.59,301.79 L311.86,302.06 L313.14,302.34 L314.41,302.62 L315.68,302.89 L316.95,303.17 L318.22,303.45 L319.49,303.73 L320.76,304.01 L322.03,304.3 L323.3,304.58 L324.57,304.86 L325.84,305.15 L327.11,305.44 L328.38,305.72 L329.65,306.01 L330.92,306.3 L332.19,306.59 L333.46,306.88 L334.73,307.18 L336,307.47 L337.27,307.77 L338.54,308.06 L339.81,308.36 L341.08,308.65 L342.35,308.95 L343.62,309.25 L344.89,309.55 L346.16,309.85 L347.43,310.16 L348.7,310.46 L349.97,310.77 L351.25,311.07 L352.52,311.38 L353.79,311.68 L355.06,311.99 L356.33,312.3 L357.6,312.61 L358.87,312.92 L360.14,313.24 L361.41,313.55 L362.68,313.86 L363.95,314.18 L365.22,314.5 L366.49,314.81 L367.76,315.13 L369.03,315.45 L370.3,315.77 L371.57,316.1 L372.84,316.42 L374.11,316.74 L375.38,317.07 L376.65,317.39 L377.92,317.72 L379.19,318.05 L380.46,318.38 L381.73,318.71 L383,319.04 L384.27,319.37 L385.54,319.7 L386.81,320.04 L388.09,320.37 L389.36,320.71 L390.63,321.04 L391.9,321.38 L393.17,321.72 L394.44,322.06 L395.71,322.4 L396.98,322.75 L398.25,323.09 L399.52,323.43 L400.79,323.78 L402.06,324.13 L403.33,324.47 L404.6,324.82 L405.87,325.17 L407.14,325.52 L408.41,325.88 L409.68,326.23 L410.95,326.58 L412.22,326.94 L413.49,327.29 L414.76,327.65 L416.03,328.01 L417.3,328.37 L418.57,328.73 L419.84,329.09 L421.11,329.46 L422.38,329.82 L423.65,330.19 L424.92,330.55 L426.2,330.92 L427.47,331.29 L428.74,331.66 L430.01,332.03 L431.28,332.4 L432.55,332.77 L433.82,333.15 L435.09,333.52 L436.36,333.9 L437.63,334.28 L438.9,334.66 L440.17,335.04 L441.44,335.42 L442.71,335.8 L443.98,336.18 L445.25,336.57 L446.52,336.95 L447.79,337.34 L449.06,337.73 L450.33,338.12 L451.6,338.51 L452.87,338.9 L454.14,339.29 L455.41,339.68 L456.68,340.05 L457.95,340.42 L459.22,340.79 L460.49,341.16 L461.76,341.54 L463.03,341.91 L464.31,342.29 L465.58,342.67 L466.85,343.05 L468.12,343.43 L469.39,343.81 L470.66,344.19 L471.93,344.57 L473.2,344.96 L474.47,345.35 L475.74,345.73 L477.01,346.12 L478.28,346.51 L479.55,346.9 L480.82,347.3 L482.09,347.69 L483.36,348.08 L484.63,348.48 L485.9,348.88 L487.17,349.28 L488.44,349.68 L489.71,350.08 L490.98,350.48 L492.25,350.88 L493.52,351.29 L494.79,351.69 L496.06,352.1 L497.33,352.51 L498.6,352.92 L499.87,353.33 L501.14,353.74 L502.42,354.16 L503.69,354.57 L504.96,354.99 L506.23,355.39 L507.5,355.8 L508.77,356.21 L510.04,356.61 L511.31,357.02 L512.58,357.43 L513.85,357.85 L515.12,358.26 L516.39,358.68 L517.66,359.09 L518.93,359.51 L520.2,359.93 L521.47,360.35 L522.74,360.77 L524.01,361.19 L525.28,361.62 L526.55,362.04 L527.82,362.47 L529.09,362.89 L530.36,363.32 L531.63,363.75 L532.9,364.19 L534.17,364.62 L535.44,365.05 L536.71,365.49 L537.98,365.93 L539.25,366.36 L540.53,366.8 L541.8,367.24 L543.07,367.69 L544.34,368.13 L545.61,368.58 L546.88,369.02 L548.15,369.47 L549.42,369.92 L550.69,370.37 L551.96,370.82 L553.23,371.27 L554.5,371.73 L555.77,372.18 L557.04,372.64 L558.31,373.1 L559.58,373.56 L560.85,374.02 L562.12,374.48 L563.39,374.94 L564.66,375.41 L565.93,375.87 L567.2,376.34 L568.47,376.81 L569.74,377.28 L571.01,377.75 L572.28,378.22 L573.55,378.7 L574.82,379.17 L576.09,379.65 L577.36,380.13 L578.64,380.61 L579.91,381.09 L581.18,381.58 L582.45,382.08 L583.72,382.58 L584.99,383.08 L586.26,383.58 L587.53,384.08 L588.8,384.59 L590.07,385.09 L591.34,385.6 L592.61,386.11 L593.88,386.62 L595.15,387.13 L596.42,387.64 L597.69,388.15 L598.96,388.67 L600.23,389.18 L601.5,389.7 L602.77,390.22 L604.04,390.74 L605.31,391.26 L606.58,391.78 L607.85,392.3 L609.12,392.83 L610.39,393.36 L611.66,393.88 L612.93,394.41 L614.2,394.94 L615.47,395.47 L616.75,396.01 L618.02,396.54 L619.29,397.08 L620.56,397.61 L621.83,398.15 L623.1,398.69 L624.37,399.23 L625.64,399.78 L626.91,400.32 L628.18,400.86 L629.45,401.41 L630.72,401.96 L631.99,402.51 L633.26,403.06 L634.53,403.61 L635.8,404.16 L637.07,404.71 L638.34,405.26 L639.61,405.79 L640.88,406.32 L642.15,406.85 L643.42,407.39 L644.69,407.92 L645.96,408.46 L647.23,409 L648.5,409.53 L649.77,410.07 L651.04,410.62 L652.31,411.16 L653.58,411.7 L654.86,412.25 L656.13,412.79 L657.4,413.34 L658.67,413.89 L659.94,414.44 L661.21,414.99 L662.48,415.54 L663.75,416.09 L665.02,416.65 L666.29,417.2 L667.56,417.76 L668.83,418.32 L670.1,418.88 L671.37,419.44 L672.64,420 L673.91,420.56 L675.18,421.13 L676.45,421.69 L677.72,422.26 L678.99,422.83 L680.26,423.4" stroke="#e3211c" stroke-width="1.2" fill="none"/>
<path clip-path="url(#cd)" d="M46.37,271.96 L47.64,271.9 L48.91,271.84 L50.18,271.79 L51.45,271.74 L52.72,271.69 L53.99,271.65 L55.26,271.61 L56.53,271.57 L57.8,271.53 L59.07,271.5 L60.34,271.46 L61.61,271.44 L62.88,271.41 L64.15,271.39 L65.42,271.37 L66.69,271.35 L67.96,271.34 L69.23,271.32 L70.5,271.31 L71.77,271.31 L73.04,271.3 L74.31,271.3 L75.58,271.3 L76.85,271.3 L78.12,271.31 L79.39,271.32 L80.66,271.33 L81.93,271.34 L83.2,271.36 L84.48,271.37 L85.75,271.39 L87.02,271.42 L88.29,271.44 L89.56,271.47 L90.83,271.5 L92.1,271.53 L93.37,271.56 L94.64,271.6 L95.91,271.64 L97.18,271.68 L98.45,271.72 L99.72,271.77 L100.99,271.81 L102.26,271.86 L103.53,271.91 L104.8,271.97 L106.07,272.02 L107.34,272.08 L108.61,272.14 L109.88,272.2 L111.15,272.27 L112.42,272.33 L113.69,272.4 L114.96,272.47 L116.23,272.54 L117.5,272.61 L118.77,272.69 L120.04,272.77 L121.31,272.85 L122.59,272.93 L123.86,273.01 L125.13,273.1 L126.4,273.19 L127.67,273.28 L128.94,273.37 L130.21,273.46 L131.48,273.55 L132.75,273.65 L134.02,273.75 L135.29,273.85 L136.56,273.95 L137.83,274.05 L139.1,274.16 L140.37,274.27 L141.64,274.37 L142.91,274.49 L144.18,274.6 L145.45,274.71 L146.72,274.83 L147.99,274.94 L149.26,275.06 L150.53,275.18 L151.8,275.3 L153.07,275.43 L154.34,275.55 L155.61,275.68 L156.88,275.81 L158.15,275.94 L159.42,276.07 L160.7,276.2 L161.97,276.34 L163.24,276.47 L164.51,276.61 L165.78,276.75 L167.05,276.89 L168.32,277.03 L169.59,277.18 L170.86,277.32 L172.13,277.47 L173.4,277.62 L174.67,277.77 L175.94,277.92 L177.21,278.07 L178.48,278.23 L179.75,278.38 L181.02,278.54 L182.29,278.7 L183.56,278.85 L184.83,279.02 L186.1,279.18 L187.37,279.34 L188.64,279.51 L189.91,279.67 L191.18,279.84 L192.45,280.01 L193.72,280.18 L194.99,280.35 L196.26,280.52 L197.53,280.7 L198.81,280.87 L200.08,281.05 L201.35,281.23 L202.62,281.41 L203.89,281.59 L205.16,281.77 L206.43,281.95 L207.7,282.14 L208.97,282.32 L210.24,282.51 L211.51,282.7 L212.78,282.89 L214.05,283.08 L215.32,283.27 L216.59,283.46 L217.86,283.66 L219.13,283.85 L220.4,284.05 L221.67,284.24 L222.94,284.44 L224.21,284.64 L225.48,284.84 L226.75,285.05 L228.02,285.25 L229.29,285.45 L230.56,285.66 L231.83,285.87 L233.1,286.07 L234.37,286.28 L235.64,286.49 L236.92,286.71 L238.19,286.92 L239.46,287.13 L240.73,287.35 L242,287.56 L243.27,287.78 L244.54,288 L245.81,288.22 L247.08,288.44 L248.35,288.66 L249.62,288.88 L250.89,289.1 L252.16,289.33 L253.43,289.55 L254.7,289.78 L255.97,290.01 L257.24,290.24 L258.51,290.47 L259.78,290.7 L261.05,290.93 L262.32,291.16 L263.59,291.39 L264.86,291.63 L266.13,291.87 L267.4,292.1 L268.67,292.34 L269.94,292.58 L271.21,292.82 L272.48,293.06 L273.75,293.3 L275.03,293.55 L276.3,293.79 L277.57,294.04 L278.84,294.28 L280.11,294.53 L281.38,294.78 L282.65,295.03 L283.92,295.28 L285.19,295.53 L286.46,295.78 L287.73,296.04 L289,296.29 L290.27,296.55 L291.54,296.8 L292.81,297.06 L294.08,297.32 L295.35,297.58 L296.62,297.84 L297.89,298.1 L299.16,298.36 L300.43,298.62 L301.7,298.89 L302.97,299.15 L304.24,299.42 L305.51,299.69 L306.78,299.96 L308.05,300.23 L309.32,300.5 L310.59,300.77 L311.86,301.04 L313.14,301.31 L314.41,301.59 L315.68,301.86 L316.95,302.14 L318.22,302.42 L319.49,302.69 L320.76,302.97 L322.03,303.25 L323.3,303.53 L324.57,303.82 L325.84,304.1 L327.11,304.38 L328.38,304.67 L329.65,304.96 L330.92,305.24 L332.19,305.53 L333.46,305.82 L334.73,306.11 L336,306.4 L337.27,306.69 L338.54,306.99 L339.81,307.28 L341.08,307.58 L342.35,307.87 L343.62,308.17 L344.89,308.47 L346.16,308.77 L347.43,309.07 L348.7,309.37 L349.97,309.67 L351.25,309.97 L352.52,310.28 L353.79,310.58 L355.06,310.89 L356.33,311.19 L357.6,311.5 L358.87,311.81 L360.14,312.12 L361.41,312.43 L362.68,312.74 L363.95,313.06 L365.22,313.37 L366.49,313.69 L367.76,314 L369.03,314.32 L370.3,314.64 L371.57,314.96 L372.84,315.28 L374.11,315.6 L375.38,315.92 L376.65,316.24 L377.92,316.57 L379.19,316.89 L380.46,317.22 L381.73,317.55 L383,317.88 L384.27,318.2 L385.54,318.54 L386.81,318.87 L388.09,319.2 L389.36,319.53 L390.63,319.87 L391.9,320.2 L393.17,320.54 L394.44,320.88 L395.71,321.22 L396.98,321.56 L398.25,321.9 L399.52,322.24 L400.79,322.58 L402.06,322.93 L403.33,323.27 L404.6,323.62 L405.87,323.97 L407.14,324.32 L408.41,324.67 L409.68,325.02 L410.95,325.37 L412.22,325.72 L413.49,326.08 L414.76,326.43 L416.03,326.79 L417.3,327.14 L418.57,327.5 L419.84,327.86 L421.11,328.22 L422.38,328.58 L423.65,328.95 L424.92,329.31 L426.2,329.68 L427.47,330.04 L428.74,330.41 L430.01,330.78 L431.28,331.15 L432.55,331.52 L433.82,331.89 L435.09,332.26 L436.36,332.64 L437.63,333.01 L438.9,333.39 L440.17,333.76 L441.44,334.14 L442.71,334.52 L443.98,334.9 L445.25,335.29 L446.52,335.67 L447.79,336.05 L449.06,336.44 L450.33,336.83 L451.6,337.21 L452.87,337.6 L454.14,337.99 L455.41,338.38 L456.68,338.78 L457.95,339.17 L459.22,339.56 L460.49,339.96 L461.76,340.36 L463.03,340.76 L464.31,341.16 L465.58,341.56 L466.85,341.96 L468.12,342.36 L469.39,342.77 L470.66,343.17 L471.93,343.58 L473.2,343.99 L474.47,344.4 L475.74,344.81 L477.01,345.22 L478.28,345.63 L479.55,346.04 L480.82,346.46 L482.09,346.88 L483.36,347.29 L484.63,347.71 L485.9,348.13 L487.17,348.55 L488.44,348.98 L489.71,349.4 L490.98,349.83 L492.25,350.25 L493.52,350.68 L494.79,351.11 L496.06,351.54 L497.33,351.97 L498.6,352.4 L499.87,352.84 L501.14,353.27 L502.42,353.71 L503.69,354.15 L504.96,354.59 L506.23,355.03 L507.5,355.47 L508.77,355.91 L510.04,356.35 L511.31,356.8 L512.58,357.25 L513.85,357.69 L515.12,358.14 L516.39,358.59 L517.66,359.05 L518.93,359.5 L520.2,359.95 L521.47,360.41 L522.74,360.87 L524.01,361.32 L525.28,361.78 L526.55,362.24 L527.82,362.71 L529.09,363.17 L530.36,363.63 L531.63,364.1 L532.9,364.57 L534.17,365.04 L535.44,365.51 L536.71,365.98 L537.98,366.45 L539.25,366.92 L540.53,367.4 L541.8,367.88 L543.07,368.35 L544.34,368.83 L545.61,369.31 L546.88,369.79 L548.15,370.28 L549.42,370.76 L550.69,371.25 L551.96,371.73 L553.23,372.22 L554.5,372.71 L555.77,373.2 L557.04,373.7 L558.31,374.19 L559.58,374.68 L560.85,375.18 L562.12,375.68 L563.39,376.18 L564.66,376.68 L565.93,377.18 L567.2,377.68 L568.47,378.19 L569.74,378.69 L571.01,379.2 L572.28,379.71 L573.55,380.22 L574.82,380.73 L576.09,381.24 L577.36,381.76 L578.64,382.27 L579.91,382.79 L581.18,383.3 L582.45,383.82 L583.72,384.34 L584.99,384.87 L586.26,385.39 L587.53,385.91 L588.8,386.44 L590.07,386.97 L591.34,387.49 L592.61,388.02 L593.88,388.55 L595.15,389.09 L596.42,389.62 L597.69,390.16 L598.96,390.69 L600.23,391.23 L601.5,391.77 L602.77,392.31 L604.04,392.85 L605.31,393.39 L606.58,393.94 L607.85,394.48 L609.12,395.03 L610.39,395.58 L611.66,396.13 L612.93,396.68 L614.2,397.23 L615.47,397.79 L616.75,398.34 L618.02,398.9 L619.29,399.45 L620.56,400.01 L621.83,400.57 L623.1,401.14 L624.37,401.7 L625.64,402.26 L626.91,402.83 L628.18,403.39 L629.45,403.96 L630.72,404.53 L631.99,405.1 L633.26,405.67 L634.53,406.25 L635.8,406.82 L637.07,407.4 L638.34,407.97 L639.61,408.55 L640.88,409.13 L642.15,409.71 L643.42,410.29 L644.69,410.88 L645.96,411.46 L647.23,412.05 L648.5,412.63 L649.77,413.22 L651.04,413.81 L652.31,414.4 L653.58,415 L654.86,415.59 L656.13,416.18 L657.4,416.78 L658.67,417.38 L659.94,417.97 L661.21,418.57 L662.48,419.17 L663.75,419.77 L665.02,420.38 L666.29,420.98 L667.56,421.59 L668.83,422.19 L670.1,422.8 L671.37,423.41 L672.64,424.02 L673.91,424.63 L675.18,425.24 L676.45,425.86 L677.72,426.47 L678.99,427.09 L680.26,427.7" stroke="#000" stroke-width="1.0" fill="none"/>
<path d="M61.5,271.04 L62.18,271.02 L62.86,271.01 L63.53,271 L64.21,270.99 L64.89,270.98 L65.57,270.97 L66.25,270.96 L66.92,270.95 L67.6,270.94 L68.28,270.93 L68.96,270.93 L69.64,270.92 L70.31,270.91 L70.99,270.91 L71.67,270.91 L72.35,270.9 L73.03,270.9 L73.7,270.9 L74.38,270.9 L75.06,270.9 L75.74,270.9 L76.42,270.9 L77.09,270.9 L77.77,270.91 L78.45,270.91 L79.13,270.92 L79.81,270.92 L80.48,270.93 L81.16,270.93 L81.84,270.94 L82.52,270.95 L83.19,270.96 L83.87,270.96 L84.55,270.97 L85.23,270.98 L85.91,271 L86.58,271.01 L87.26,271.02 L87.94,271.03 L88.62,271.05 L89.3,271.06 L89.97,271.08 L90.65,271.09 L91.33,271.11 L92.01,271.13 L92.69,271.14 L93.36,271.16 L94.04,271.18 L94.72,271.2 L95.4,271.22 L96.08,271.24 L96.75,271.26 L97.43,271.29 L98.11,271.31 L98.79,271.33 L99.47,271.36 L100.14,271.38 L100.82,271.41 L101.5,271.43" stroke="#1a3d95" stroke-width="4.0" stroke-linecap="round" fill="none"/>
<path d="M60,271.47 L60.73,271.46 L61.46,271.44 L62.19,271.42 L62.92,271.41 L63.64,271.4 L64.37,271.38 L65.1,271.37 L65.83,271.36 L66.56,271.35 L67.29,271.34 L68.02,271.33 L68.75,271.33 L69.47,271.32 L70.2,271.32 L70.93,271.31 L71.66,271.31 L72.39,271.3 L73.12,271.3 L73.85,271.3 L74.58,271.3 L75.31,271.3 L76.03,271.3 L76.76,271.3 L77.49,271.31 L78.22,271.31 L78.95,271.31 L79.68,271.32 L80.41,271.33 L81.14,271.33 L81.86,271.34 L82.59,271.35 L83.32,271.36 L84.05,271.37 L84.78,271.38 L85.51,271.39 L86.24,271.4 L86.97,271.41 L87.69,271.43 L88.42,271.44 L89.15,271.46 L89.88,271.47 L90.61,271.49 L91.34,271.51 L92.07,271.53 L92.8,271.55 L93.53,271.57 L94.25,271.59 L94.98,271.61 L95.71,271.63 L96.44,271.65 L97.17,271.68 L97.9,271.7 L98.63,271.73 L99.36,271.75 L100.08,271.78 L100.81,271.81 L101.54,271.83 L102.27,271.86 L103,271.89" stroke="#000" stroke-width="0.8" fill="none" opacity="0.7"/>
<path d="M588.5,386.32 L589.36,386.67 L590.21,387.03 L591.07,387.38 L591.92,387.74 L592.78,388.09 L593.64,388.45 L594.49,388.81 L595.35,389.17 L596.2,389.53 L597.06,389.89 L597.92,390.25 L598.77,390.61 L599.63,390.97 L600.48,391.34 L601.34,391.7 L602.19,392.06 L603.05,392.43 L603.91,392.79 L604.76,393.16 L605.62,393.53 L606.47,393.89 L607.33,394.26 L608.19,394.63 L609.04,395 L609.9,395.37 L610.75,395.74 L611.61,396.11 L612.47,396.48 L613.32,396.85 L614.18,397.22 L615.03,397.59 L615.89,397.97 L616.75,398.34 L617.6,398.72 L618.46,399.09 L619.31,399.47 L620.17,399.84 L621.03,400.22 L621.88,400.6 L622.74,400.98 L623.59,401.35 L624.45,401.73 L625.31,402.11 L626.16,402.49 L627.02,402.88 L627.87,403.26 L628.73,403.64 L629.58,404.02 L630.44,404.41 L631.3,404.79 L632.15,405.18 L633.01,405.56 L633.86,405.95 L634.72,406.33 L635.58,406.72 L636.43,407.11 L637.29,407.5 L638.14,407.88 L639,408.27" stroke="#1d40a0" stroke-width="3.9" stroke-linecap="round" fill="none"/>
<path d="M587,385.69 L587.92,386.07 L588.83,386.45 L589.75,386.83 L590.66,387.21 L591.58,387.59 L592.49,387.97 L593.41,388.36 L594.32,388.74 L595.24,389.12 L596.15,389.51 L597.07,389.89 L597.98,390.28 L598.9,390.67 L599.81,391.05 L600.73,391.44 L601.64,391.83 L602.56,392.22 L603.47,392.61 L604.39,393 L605.31,393.39 L606.22,393.78 L607.14,394.18 L608.05,394.57 L608.97,394.96 L609.88,395.36 L610.8,395.75 L611.71,396.15 L612.63,396.55 L613.54,396.94 L614.46,397.34 L615.37,397.74 L616.29,398.14 L617.2,398.54 L618.12,398.94 L619.03,399.34 L619.95,399.75 L620.86,400.15 L621.78,400.55 L622.69,400.96 L623.61,401.36 L624.53,401.77 L625.44,402.17 L626.36,402.58 L627.27,402.99 L628.19,403.4 L629.1,403.81 L630.02,404.22 L630.93,404.63 L631.85,405.04 L632.76,405.45 L633.68,405.86 L634.59,406.28 L635.51,406.69 L636.42,407.1 L637.34,407.52 L638.25,407.93 L639.17,408.35 L640.08,408.77 L641,409.19" stroke="#000" stroke-width="0.9" fill="none"/>
<g fill="none" stroke="#3d64b8" stroke-width="0.9"><circle cx="257.5" cy="289.98" r="1.8"/><circle cx="260.81" cy="290.58" r="1.8"/><circle cx="264.12" cy="291.19" r="1.8"/><circle cx="267.44" cy="291.81" r="1.8"/><circle cx="270.75" cy="292.43" r="1.8"/><circle cx="274.06" cy="293.06" r="1.8"/><circle cx="277.38" cy="293.7" r="1.8"/><circle cx="280.69" cy="294.34" r="1.8"/><circle cx="284" cy="294.99" r="1.8"/></g>
<text x="62.6" y="285.2" font-size="11.8">167 res.</text>
<text transform="translate(253.3,284.4) rotate(6)" font-size="11.2" font-style="italic">141 res.</text>
<text transform="translate(597.7,383.7) rotate(22.5)" font-size="11.5">250 res.</text>
<rect x="51.7" y="260.6" width="623.5" height="165.1" fill="none" stroke="#000" stroke-width="1.35"/>
<path d="M112.5,425.7v-3 M206.5,425.7v-3 M300.5,425.7v-3 M394.5,425.7v-3 M488.5,425.7v-3 M582.5,425.7v-3 M60.5,260.6v3 M111.5,260.6v3 M174.5,260.6v3 M252.5,260.6v3 M353.5,260.6v3 M487.5,260.6v3 M51.7,270.5h3 M675.2,270.5h-3 M51.7,322.5h3 M675.2,322.5h-3 M51.7,373.5h3 M675.2,373.5h-3 M51.7,425.5h3 M675.2,425.5h-3" stroke="#000" stroke-width="1" fill="none"/>
<text x="49.2" y="275.6" text-anchor="end" font-size="11.5">0</text>
<text x="49.2" y="327.1" text-anchor="end" font-size="11.5">-5</text>
<text x="49.2" y="378.6" text-anchor="end" font-size="11.5">-10</text>
<text x="49.2" y="430.1" text-anchor="end" font-size="11.5">-15</text>
<text x="112.2" y="440.8" text-anchor="middle" font-size="11.5">300</text>
<text x="206.25" y="440.8" text-anchor="middle" font-size="11.5">350</text>
<text x="300.3" y="440.8" text-anchor="middle" font-size="11.5">400</text>
<text x="394.35" y="440.8" text-anchor="middle" font-size="11.5">450</text>
<text x="488.4" y="440.8" text-anchor="middle" font-size="11.5">500</text>
<text x="582.45" y="440.8" text-anchor="middle" font-size="11.5">550</text>
<text x="60.55" y="255" text-anchor="middle" font-size="11.5">1100</text>
<text x="111.81" y="255" text-anchor="middle" font-size="11.5">1000</text>
<text x="174.47" y="255" text-anchor="middle" font-size="11.5">900</text>
<text x="252.79" y="255" text-anchor="middle" font-size="11.5">800</text>
<text x="353.49" y="255" text-anchor="middle" font-size="11.5">700</text>
<text x="487.75" y="255" text-anchor="middle" font-size="11.5">600</text>
<text x="675.72" y="255" text-anchor="middle" font-size="11.5">500</text>
<text x="363.5" y="458.8" text-anchor="middle" font-size="14.7">Frequency (THz)</text>
<text x="363.5" y="238.9" text-anchor="middle" font-size="14.7">Wavelength (nm)</text>
<text transform="translate(22.5,337) rotate(-90)" text-anchor="middle" font-size="14.7"><tspan font-style="italic">D</tspan><tspan font-size="9.5" dy="2.5">int</tspan><tspan dy="-2.5">/2<tspan font-family="Liberation Serif">π</tspan> (THz)</tspan></text>
<text x="236.5" y="363.7" font-size="11.65"><tspan font-style="italic">ω</tspan><tspan font-size="6.5" dy="1.7">0</tspan><tspan dy="-1.7">/2<tspan font-family="Liberation Serif">π</tspan> = 280.0503 THz</tspan></text>
<text x="236.5" y="379.59999999999997" font-size="11.65"><tspan font-style="italic">D</tspan><tspan font-size="6.5" dy="1.7">1</tspan><tspan dy="-1.7">/2<tspan font-family="Liberation Serif">π</tspan> = 103.723 GHz</tspan></text>
<text x="236.5" y="395.5" font-size="11.65"><tspan font-style="italic">D</tspan><tspan font-size="6.5" dy="1.7">2</tspan><tspan dy="-1.7">/2<tspan font-family="Liberation Serif">π</tspan> = -6.8213 MHz</tspan></text>
<text x="236.5" y="411.4" font-size="11.65"><tspan font-style="italic">D</tspan><tspan font-size="6.5" dy="1.7">3</tspan><tspan dy="-1.7">/2<tspan font-family="Liberation Serif">π</tspan> = 13.37 kHz</tspan></text>
<text x="372.7" y="379.6" font-size="11.65"><tspan font-style="italic">D</tspan><tspan font-size="6.5" dy="1.7">4</tspan><tspan dy="-1.7">/2<tspan font-family="Liberation Serif">π</tspan> = -26.0 Hz</tspan></text>
<text x="372.7" y="395.5" font-size="11.65"><tspan font-style="italic">D</tspan><tspan font-size="6.5" dy="1.7">5</tspan><tspan dy="-1.7">/2<tspan font-family="Liberation Serif">π</tspan> = 31 mHz</tspan></text>
<text x="372.7" y="411.40000000000003" font-size="11.65"><tspan font-style="italic">D</tspan><tspan font-size="6.5" dy="1.7">6</tspan><tspan dy="-1.7">/2<tspan font-family="Liberation Serif">π</tspan> = -0.02 mHz</tspan></text>
<path d="M535.4,271.4H557.8" stroke="#000" stroke-width="1"/>
<circle cx="542" cy="287.5" r="1.8" fill="#1f4ea3"/><circle cx="551" cy="287.5" r="1.6" fill="none" stroke="#1f4ea3" stroke-width="0.9"/>
<path d="M535.4,304.3H557.8" stroke="#e3211c" stroke-width="1.2"/><path d="M535.4,318.4H557.8" stroke="#6cb33f" stroke-width="1.2"/>
<text x="563.8" y="275.3" font-size="11.6"><tspan font-style="italic">D</tspan><tspan font-size="6.6" dy="1.8">int</tspan><tspan dy="-1.8"> fit</tspan></text>
<text x="563.8" y="290.1" font-size="11.6"><tspan font-style="italic">D</tspan><tspan font-size="6.6" dy="1.8">int</tspan><tspan dy="-1.8"><tspan dx="1.3">data</tspan></tspan></text>
<text x="563.8" y="307.9" font-size="11.6"><tspan font-style="italic">D</tspan><tspan font-size="6.6" dy="1.8">int</tspan><tspan dy="-1.8"> simu. (Model 1)</tspan></text>
<text x="563.8" y="321.9" font-size="11.6"><tspan font-style="italic">D</tspan><tspan font-size="6.6" dy="1.8">int</tspan><tspan dy="-1.8"> simu. (Model 2)</tspan></text>
<text x="-0.5" y="232.5" font-size="17.5" font-weight="bold">d</text>
</svg></body></html>
